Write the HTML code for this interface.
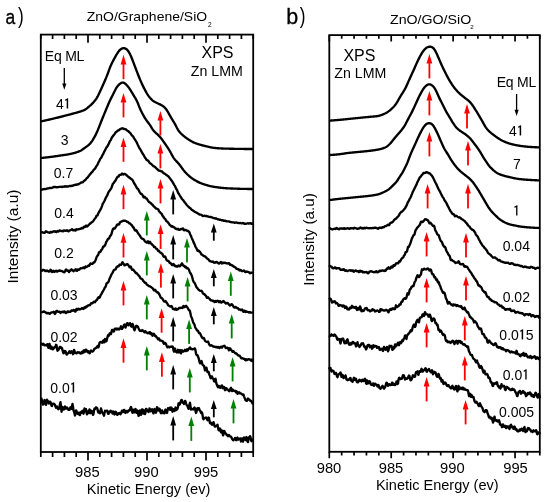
<!DOCTYPE html>
<html><head><meta charset="utf-8"><title>XPS Zn LMM spectra</title>
<style>html,body{margin:0;padding:0;background:#fff;}body{width:550px;height:502px;overflow:hidden;}svg{display:block;}</style>
</head><body>
<svg width="550" height="502" viewBox="0 0 550 502"><rect x="40.8" y="34.6" width="212.4" height="417.4" fill="none" stroke="#000" stroke-width="1.8"/>
<rect x="329.3" y="35.1" width="210.5" height="416.7" fill="none" stroke="#000" stroke-width="1.8"/>
<path d="M40.80,35 V38.9 M40.80,452 V457 M52.60,35 V38.9 M52.60,452 V457 M64.40,35 V38.9 M64.40,452 V457 M76.20,35 V38.9 M76.20,452 V457 M88.00,35 V42.7 M88.00,452 V460.5 M99.80,35 V38.9 M99.80,452 V457 M111.60,35 V38.9 M111.60,452 V457 M123.40,35 V38.9 M123.40,452 V457 M135.20,35 V38.9 M135.20,452 V457 M147.00,35 V42.7 M147.00,452 V460.5 M158.80,35 V38.9 M158.80,452 V457 M170.60,35 V38.9 M170.60,452 V457 M182.40,35 V38.9 M182.40,452 V457 M194.20,35 V38.9 M194.20,452 V457 M206.00,35 V42.7 M206.00,452 V460.5 M217.80,35 V38.9 M217.80,452 V457 M229.60,35 V38.9 M229.60,452 V457 M241.40,35 V38.9 M241.40,452 V457 M253.20,35 V38.9 M253.20,452 V457 M329.30,35 V41.4 M329.30,452 V458.2 M341.68,35 V38.8 M341.68,452 V455.5 M354.06,35 V38.8 M354.06,452 V455.5 M366.45,35 V38.8 M366.45,452 V455.5 M378.83,35 V38.8 M378.83,452 V455.5 M391.21,35 V41.4 M391.21,452 V458.2 M403.59,35 V38.8 M403.59,452 V455.5 M415.98,35 V38.8 M415.98,452 V455.5 M428.36,35 V38.8 M428.36,452 V455.5 M440.74,35 V38.8 M440.74,452 V455.5 M453.12,35 V41.4 M453.12,452 V458.2 M465.51,35 V38.8 M465.51,452 V455.5 M477.89,35 V38.8 M477.89,452 V455.5 M490.27,35 V38.8 M490.27,452 V455.5 M502.65,35 V38.8 M502.65,452 V455.5 M515.04,35 V41.4 M515.04,452 V458.2 M527.42,35 V38.8 M527.42,452 V455.5 M539.80,35 V38.8 M539.80,452 V455.5" stroke="#000" stroke-width="1.7" fill="none"/>
<path d="M41.0,121.40 L41.5,121.29 L42.0,121.18 L42.5,121.08 L43.0,120.97 L43.5,120.86 L44.0,120.75 L44.5,120.64 L45.0,120.53 L45.5,120.42 L46.0,120.31 L46.5,120.19 L47.0,120.08 L47.5,119.97 L48.0,119.86 L48.5,119.74 L49.0,119.63 L49.5,119.51 L50.0,119.40 L50.5,119.28 L51.0,119.17 L51.5,119.05 L52.0,118.93 L52.5,118.82 L53.0,118.70 L53.5,118.58 L54.0,118.46 L54.5,118.34 L55.0,118.22 L55.5,118.10 L56.0,117.98 L56.5,117.86 L57.0,117.74 L57.5,117.62 L58.0,117.49 L58.5,117.37 L59.0,117.25 L59.5,117.12 L60.0,117.00 L60.5,116.87 L61.0,116.75 L61.5,116.62 L62.0,116.50 L62.5,116.37 L63.0,116.24 L63.5,116.11 L64.0,115.98 L64.5,115.85 L65.0,115.72 L65.5,115.59 L66.0,115.46 L66.5,115.33 L67.0,115.20 L67.5,115.07 L68.0,114.93 L68.5,114.80 L69.0,114.67 L69.5,114.53 L70.0,114.40 L70.5,114.27 L71.0,114.13 L71.5,114.00 L72.0,113.87 L72.5,113.74 L73.0,113.60 L73.5,113.47 L74.0,113.34 L74.5,113.21 L75.0,113.07 L75.5,112.93 L76.0,112.79 L76.5,112.65 L77.0,112.51 L77.5,112.37 L78.0,112.22 L78.5,112.07 L79.0,111.91 L79.5,111.76 L80.0,111.60 L80.5,111.44 L81.0,111.27 L81.5,111.10 L82.0,110.93 L82.5,110.75 L83.0,110.56 L83.5,110.36 L84.0,110.14 L84.5,109.90 L85.0,109.63 L85.5,109.33 L86.0,109.00 L86.5,108.63 L87.0,108.24 L87.5,107.84 L88.0,107.42 L88.5,107.00 L89.0,106.58 L89.5,106.16 L90.0,105.73 L90.5,105.28 L91.0,104.83 L91.5,104.35 L92.0,103.86 L92.5,103.35 L93.0,102.82 L93.5,102.27 L94.0,101.69 L94.5,101.09 L95.0,100.46 L95.5,99.80 L96.0,99.10 L96.5,98.36 L97.0,97.56 L97.5,96.69 L98.0,95.77 L98.5,94.78 L99.0,93.74 L99.5,92.68 L100.0,91.59 L100.5,90.51 L101.0,89.41 L101.5,88.32 L102.0,87.21 L102.5,86.10 L103.0,84.99 L103.5,83.87 L104.0,82.73 L104.5,81.60 L105.0,80.45 L105.5,79.29 L106.0,78.11 L106.5,76.91 L107.0,75.66 L107.5,74.35 L108.0,72.99 L108.5,71.59 L109.0,70.18 L109.5,68.80 L110.0,67.49 L110.5,66.27 L111.0,65.13 L111.5,64.06 L112.0,63.03 L112.5,62.03 L113.0,61.06 L113.5,60.11 L114.0,59.17 L114.5,58.24 L115.0,57.32 L115.5,56.42 L116.0,55.53 L116.5,54.66 L117.0,53.83 L117.5,53.04 L118.0,52.29 L118.5,51.60 L119.0,50.95 L119.5,50.38 L120.0,49.88 L120.5,49.45 L121.0,49.10 L121.5,48.80 L122.0,48.56 L122.5,48.37 L123.0,48.24 L123.5,48.17 L124.0,48.18 L124.5,48.26 L125.0,48.41 L125.5,48.63 L126.0,48.91 L126.5,49.26 L127.0,49.69 L127.5,50.20 L128.0,50.80 L128.5,51.51 L129.0,52.31 L129.5,53.19 L130.0,54.15 L130.5,55.19 L131.0,56.30 L131.5,57.49 L132.0,58.73 L132.5,60.03 L133.0,61.34 L133.5,62.66 L134.0,63.98 L134.5,65.30 L135.0,66.62 L135.5,67.94 L136.0,69.26 L136.5,70.58 L137.0,71.88 L137.5,73.18 L138.0,74.46 L138.5,75.72 L139.0,76.97 L139.5,78.20 L140.0,79.41 L140.5,80.60 L141.0,81.76 L141.5,82.89 L142.0,83.99 L142.5,85.06 L143.0,86.10 L143.5,87.12 L144.0,88.11 L144.5,89.07 L145.0,90.01 L145.5,90.93 L146.0,91.83 L146.5,92.71 L147.0,93.55 L147.5,94.37 L148.0,95.14 L148.5,95.86 L149.0,96.54 L149.5,97.18 L150.0,97.78 L150.5,98.35 L151.0,98.88 L151.5,99.39 L152.0,99.87 L152.5,100.31 L153.0,100.72 L153.5,101.09 L154.0,101.43 L154.5,101.74 L155.0,102.02 L155.5,102.29 L156.0,102.53 L156.5,102.77 L157.0,103.00 L157.5,103.24 L158.0,103.47 L158.5,103.70 L159.0,103.94 L159.5,104.17 L160.0,104.41 L160.5,104.66 L161.0,104.92 L161.5,105.19 L162.0,105.49 L162.5,105.81 L163.0,106.15 L163.5,106.53 L164.0,106.93 L164.5,107.38 L165.0,107.87 L165.5,108.42 L166.0,109.04 L166.5,109.73 L167.0,110.50 L167.5,111.32 L168.0,112.18 L168.5,113.06 L169.0,113.94 L169.5,114.82 L170.0,115.70 L170.5,116.56 L171.0,117.43 L171.5,118.28 L172.0,119.13 L172.5,119.96 L173.0,120.78 L173.5,121.60 L174.0,122.42 L174.5,123.27 L175.0,124.16 L175.5,125.10 L176.0,126.08 L176.5,127.08 L177.0,128.05 L177.5,128.96 L178.0,129.80 L178.5,130.55 L179.0,131.23 L179.5,131.86 L180.0,132.44 L180.5,132.99 L181.0,133.51 L181.5,134.01 L182.0,134.48 L182.5,134.94 L183.0,135.37 L183.5,135.79 L184.0,136.20 L184.5,136.60 L185.0,136.99 L185.5,137.36 L186.0,137.73 L186.5,138.10 L187.0,138.46 L187.5,138.81 L188.0,139.15 L188.5,139.48 L189.0,139.81 L189.5,140.12 L190.0,140.43 L190.5,140.73 L191.0,141.02 L191.5,141.30 L192.0,141.58 L192.5,141.84 L193.0,142.09 L193.5,142.33 L194.0,142.55 L194.5,142.77 L195.0,142.98 L195.5,143.18 L196.0,143.37 L196.5,143.56 L197.0,143.74 L197.5,143.91 L198.0,144.07 L198.5,144.24 L199.0,144.39 L199.5,144.54 L200.0,144.69 L200.5,144.84 L201.0,144.98 L201.5,145.11 L202.0,145.25 L202.5,145.38 L203.0,145.50 L203.5,145.63 L204.0,145.75 L204.5,145.88 L205.0,146.00 L205.5,146.12 L206.0,146.24 L206.5,146.36 L207.0,146.48 L207.5,146.60 L208.0,146.72 L208.5,146.84 L209.0,146.96 L209.5,147.07 L210.0,147.18 L210.5,147.28 L211.0,147.38 L211.5,147.48 L212.0,147.57 L212.5,147.66 L213.0,147.74 L213.5,147.81 L214.0,147.88 L214.5,147.94 L215.0,147.99 L215.5,148.04 L216.0,148.09 L216.5,148.13 L217.0,148.17 L217.5,148.21 L218.0,148.25 L218.5,148.28 L219.0,148.32 L219.5,148.35 L220.0,148.38 L220.5,148.41 L221.0,148.44 L221.5,148.46 L222.0,148.49 L222.5,148.51 L223.0,148.53 L223.5,148.55 L224.0,148.57 L224.5,148.58 L225.0,148.60 L225.5,148.61 L226.0,148.62 L226.5,148.64 L227.0,148.65 L227.5,148.66 L228.0,148.67 L228.5,148.69 L229.0,148.70 L229.5,148.71 L230.0,148.72 L230.5,148.73 L231.0,148.74 L231.5,148.75 L232.0,148.76 L232.5,148.77 L233.0,148.78 L233.5,148.79 L234.0,148.80 L234.5,148.81 L235.0,148.82 L235.5,148.83 L236.0,148.84 L236.5,148.85 L237.0,148.86 L237.5,148.87 L238.0,148.87 L238.5,148.88 L239.0,148.89 L239.5,148.90 L240.0,148.90 L240.5,148.91 L241.0,148.92 L241.5,148.92 L242.0,148.93 L242.5,148.94 L243.0,148.94 L243.5,148.95 L244.0,148.95 L244.5,148.96 L245.0,148.96 L245.5,148.97 L246.0,148.97 L246.5,148.97 L247.0,148.98 L247.5,148.98 L248.0,148.98 L248.5,148.99 L249.0,148.99 L249.5,148.99 L250.0,148.99 L250.5,149.00 L251.0,149.00 L251.5,149.00 L252.0,149.00 L252.5,149.00 L253.0,149.00" fill="none" stroke="#000" stroke-width="2.35" stroke-linejoin="round"/>
<path d="M41.0,158.00 L41.5,157.95 L42.0,157.90 L42.5,157.85 L43.0,157.80 L43.5,157.74 L44.0,157.69 L44.5,157.64 L45.0,157.58 L45.5,157.53 L46.0,157.47 L46.5,157.42 L47.0,157.36 L47.5,157.30 L48.0,157.24 L48.5,157.18 L49.0,157.12 L49.5,157.06 L50.0,157.00 L50.5,156.94 L51.0,156.87 L51.5,156.81 L52.0,156.74 L52.5,156.68 L53.0,156.61 L53.5,156.54 L54.0,156.47 L54.5,156.40 L55.0,156.33 L55.5,156.26 L56.0,156.19 L56.5,156.12 L57.0,156.04 L57.5,155.97 L58.0,155.90 L58.5,155.82 L59.0,155.75 L59.5,155.67 L60.0,155.60 L60.5,155.53 L61.0,155.45 L61.5,155.38 L62.0,155.31 L62.5,155.24 L63.0,155.17 L63.5,155.09 L64.0,155.02 L64.5,154.95 L65.0,154.87 L65.5,154.79 L66.0,154.72 L66.5,154.64 L67.0,154.55 L67.5,154.47 L68.0,154.38 L68.5,154.29 L69.0,154.19 L69.5,154.09 L70.0,153.99 L70.5,153.89 L71.0,153.78 L71.5,153.67 L72.0,153.55 L72.5,153.43 L73.0,153.31 L73.5,153.18 L74.0,153.05 L74.5,152.91 L75.0,152.77 L75.5,152.62 L76.0,152.46 L76.5,152.30 L77.0,152.14 L77.5,151.96 L78.0,151.78 L78.5,151.59 L79.0,151.39 L79.5,151.18 L80.0,150.96 L80.5,150.71 L81.0,150.44 L81.5,150.15 L82.0,149.83 L82.5,149.50 L83.0,149.15 L83.5,148.79 L84.0,148.43 L84.5,148.07 L85.0,147.71 L85.5,147.36 L86.0,147.01 L86.5,146.65 L87.0,146.30 L87.5,145.93 L88.0,145.54 L88.5,145.13 L89.0,144.69 L89.5,144.21 L90.0,143.68 L90.5,143.11 L91.0,142.49 L91.5,141.81 L92.0,141.09 L92.5,140.33 L93.0,139.53 L93.5,138.71 L94.0,137.86 L94.5,136.98 L95.0,136.07 L95.5,135.12 L96.0,134.14 L96.5,133.10 L97.0,132.01 L97.5,130.87 L98.0,129.67 L98.5,128.42 L99.0,127.14 L99.5,125.84 L100.0,124.55 L100.5,123.27 L101.0,122.00 L101.5,120.75 L102.0,119.51 L102.5,118.28 L103.0,117.05 L103.5,115.83 L104.0,114.61 L104.5,113.39 L105.0,112.18 L105.5,110.97 L106.0,109.77 L106.5,108.58 L107.0,107.40 L107.5,106.21 L108.0,105.02 L108.5,103.83 L109.0,102.67 L109.5,101.54 L110.0,100.44 L110.5,99.39 L111.0,98.38 L111.5,97.39 L112.0,96.42 L112.5,95.46 L113.0,94.49 L113.5,93.50 L114.0,92.48 L114.5,91.45 L115.0,90.43 L115.5,89.45 L116.0,88.54 L116.5,87.70 L117.0,86.95 L117.5,86.27 L118.0,85.66 L118.5,85.10 L119.0,84.59 L119.5,84.14 L120.0,83.74 L120.5,83.40 L121.0,83.10 L121.5,82.86 L122.0,82.68 L122.5,82.57 L123.0,82.55 L123.5,82.64 L124.0,82.85 L124.5,83.15 L125.0,83.53 L125.5,83.96 L126.0,84.43 L126.5,84.92 L127.0,85.44 L127.5,86.00 L128.0,86.60 L128.5,87.24 L129.0,87.92 L129.5,88.64 L130.0,89.40 L130.5,90.17 L131.0,90.96 L131.5,91.76 L132.0,92.58 L132.5,93.41 L133.0,94.26 L133.5,95.12 L134.0,95.97 L134.5,96.80 L135.0,97.63 L135.5,98.47 L136.0,99.34 L136.5,100.27 L137.0,101.28 L137.5,102.38 L138.0,103.57 L138.5,104.82 L139.0,106.10 L139.5,107.35 L140.0,108.55 L140.5,109.68 L141.0,110.76 L141.5,111.78 L142.0,112.76 L142.5,113.72 L143.0,114.64 L143.5,115.55 L144.0,116.43 L144.5,117.29 L145.0,118.12 L145.5,118.92 L146.0,119.69 L146.5,120.42 L147.0,121.12 L147.5,121.79 L148.0,122.44 L148.5,123.08 L149.0,123.73 L149.5,124.41 L150.0,125.12 L150.5,125.88 L151.0,126.69 L151.5,127.52 L152.0,128.34 L152.5,129.14 L153.0,129.89 L153.5,130.57 L154.0,131.17 L154.5,131.71 L155.0,132.19 L155.5,132.64 L156.0,133.08 L156.5,133.52 L157.0,133.96 L157.5,134.41 L158.0,134.86 L158.5,135.34 L159.0,135.83 L159.5,136.36 L160.0,136.91 L160.5,137.50 L161.0,138.13 L161.5,138.78 L162.0,139.45 L162.5,140.15 L163.0,140.85 L163.5,141.57 L164.0,142.28 L164.5,142.99 L165.0,143.71 L165.5,144.42 L166.0,145.14 L166.5,145.86 L167.0,146.60 L167.5,147.34 L168.0,148.10 L168.5,148.88 L169.0,149.68 L169.5,150.52 L170.0,151.39 L170.5,152.29 L171.0,153.21 L171.5,154.14 L172.0,155.07 L172.5,155.97 L173.0,156.82 L173.5,157.62 L174.0,158.36 L174.5,159.04 L175.0,159.67 L175.5,160.25 L176.0,160.80 L176.5,161.34 L177.0,161.86 L177.5,162.39 L178.0,162.92 L178.5,163.48 L179.0,164.07 L179.5,164.69 L180.0,165.33 L180.5,166.00 L181.0,166.69 L181.5,167.39 L182.0,168.09 L182.5,168.79 L183.0,169.47 L183.5,170.13 L184.0,170.76 L184.5,171.37 L185.0,171.94 L185.5,172.49 L186.0,173.02 L186.5,173.53 L187.0,174.03 L187.5,174.52 L188.0,174.99 L188.5,175.45 L189.0,175.90 L189.5,176.33 L190.0,176.75 L190.5,177.16 L191.0,177.55 L191.5,177.93 L192.0,178.29 L192.5,178.64 L193.0,178.98 L193.5,179.30 L194.0,179.62 L194.5,179.92 L195.0,180.22 L195.5,180.51 L196.0,180.80 L196.5,181.08 L197.0,181.35 L197.5,181.61 L198.0,181.87 L198.5,182.12 L199.0,182.36 L199.5,182.59 L200.0,182.81 L200.5,183.03 L201.0,183.24 L201.5,183.44 L202.0,183.63 L202.5,183.81 L203.0,183.99 L203.5,184.16 L204.0,184.32 L204.5,184.49 L205.0,184.64 L205.5,184.80 L206.0,184.95 L206.5,185.10 L207.0,185.24 L207.5,185.38 L208.0,185.52 L208.5,185.65 L209.0,185.78 L209.5,185.91 L210.0,186.03 L210.5,186.14 L211.0,186.26 L211.5,186.36 L212.0,186.47 L212.5,186.57 L213.0,186.66 L213.5,186.75 L214.0,186.84 L214.5,186.92 L215.0,186.99 L215.5,187.07 L216.0,187.14 L216.5,187.21 L217.0,187.28 L217.5,187.34 L218.0,187.41 L218.5,187.47 L219.0,187.53 L219.5,187.60 L220.0,187.65 L220.5,187.71 L221.0,187.77 L221.5,187.82 L222.0,187.88 L222.5,187.93 L223.0,187.97 L223.5,188.02 L224.0,188.07 L224.5,188.11 L225.0,188.15 L225.5,188.19 L226.0,188.22 L226.5,188.26 L227.0,188.29 L227.5,188.32 L228.0,188.35 L228.5,188.37 L229.0,188.40 L229.5,188.42 L230.0,188.44 L230.5,188.46 L231.0,188.48 L231.5,188.50 L232.0,188.52 L232.5,188.54 L233.0,188.56 L233.5,188.58 L234.0,188.60 L234.5,188.62 L235.0,188.64 L235.5,188.65 L236.0,188.67 L236.5,188.69 L237.0,188.70 L237.5,188.72 L238.0,188.74 L238.5,188.75 L239.0,188.77 L239.5,188.78 L240.0,188.80 L240.5,188.81 L241.0,188.83 L241.5,188.84 L242.0,188.85 L242.5,188.86 L243.0,188.88 L243.5,188.89 L244.0,188.90 L244.5,188.91 L245.0,188.92 L245.5,188.93 L246.0,188.94 L246.5,188.94 L247.0,188.95 L247.5,188.96 L248.0,188.97 L248.5,188.97 L249.0,188.98 L249.5,188.98 L250.0,188.99 L250.5,188.99 L251.0,188.99 L251.5,189.00 L252.0,189.00 L252.5,189.00 L253.0,189.00" fill="none" stroke="#000" stroke-width="2.35" stroke-linejoin="round"/>
<path d="M41.0,190.02 L41.5,189.81 L42.0,189.58 L42.5,189.40 L43.0,189.32 L43.5,189.15 L44.0,189.08 L44.5,189.00 L45.0,189.05 L45.5,189.19 L46.0,188.91 L46.5,188.74 L47.0,188.64 L47.5,188.43 L48.0,188.44 L48.5,188.41 L49.0,188.24 L49.5,187.94 L50.0,187.87 L50.5,188.09 L51.0,188.06 L51.5,187.93 L52.0,187.91 L52.5,187.74 L53.0,187.33 L53.5,187.02 L54.0,186.96 L54.5,186.91 L55.0,186.91 L55.5,187.09 L56.0,187.23 L56.5,187.29 L57.0,187.28 L57.5,187.17 L58.0,187.12 L58.5,187.05 L59.0,186.89 L59.5,186.86 L60.0,186.90 L60.5,186.80 L61.0,186.75 L61.5,186.90 L62.0,187.04 L62.5,186.90 L63.0,186.65 L63.5,186.56 L64.0,186.75 L64.5,186.69 L65.0,186.27 L65.5,186.36 L66.0,186.61 L66.5,186.47 L67.0,186.41 L67.5,186.63 L68.0,186.57 L68.5,186.27 L69.0,186.09 L69.5,185.96 L70.0,185.93 L70.5,185.97 L71.0,186.00 L71.5,185.88 L72.0,185.73 L72.5,185.72 L73.0,185.63 L73.5,185.33 L74.0,185.12 L74.5,185.09 L75.0,184.84 L75.5,184.64 L76.0,184.71 L76.5,184.81 L77.0,184.61 L77.5,184.29 L78.0,184.40 L78.5,184.35 L79.0,183.88 L79.5,183.55 L80.0,183.32 L80.5,183.02 L81.0,182.65 L81.5,182.41 L82.0,182.39 L82.5,182.41 L83.0,182.16 L83.5,181.41 L84.0,180.83 L84.5,180.64 L85.0,180.34 L85.5,179.87 L86.0,179.20 L86.5,178.46 L87.0,178.00 L87.5,177.63 L88.0,176.96 L88.5,176.27 L89.0,175.69 L89.5,174.95 L90.0,174.39 L90.5,173.87 L91.0,173.11 L91.5,172.53 L92.0,172.14 L92.5,171.60 L93.0,170.92 L93.5,170.18 L94.0,169.44 L94.5,169.07 L95.0,168.70 L95.5,167.85 L96.0,166.96 L96.5,166.15 L97.0,165.44 L97.5,164.64 L98.0,163.52 L98.5,162.30 L99.0,161.34 L99.5,160.52 L100.0,159.39 L100.5,158.49 L101.0,158.01 L101.5,157.22 L102.0,156.11 L102.5,155.09 L103.0,154.24 L103.5,153.42 L104.0,152.35 L104.5,151.18 L105.0,150.27 L105.5,149.34 L106.0,148.22 L106.5,147.35 L107.0,146.83 L107.5,146.17 L108.0,145.15 L108.5,144.22 L109.0,143.31 L109.5,142.04 L110.0,141.00 L110.5,140.34 L111.0,139.53 L111.5,138.31 L112.0,137.19 L112.5,136.67 L113.0,136.12 L113.5,135.36 L114.0,134.80 L114.5,134.25 L115.0,133.44 L115.5,132.57 L116.0,132.00 L116.5,131.71 L117.0,131.31 L117.5,130.81 L118.0,130.45 L118.5,130.29 L119.0,130.10 L119.5,129.65 L120.0,129.26 L120.5,129.18 L121.0,128.83 L121.5,128.45 L122.0,128.41 L122.5,128.27 L123.0,128.40 L123.5,128.87 L124.0,129.00 L124.5,128.91 L125.0,129.07 L125.5,129.29 L126.0,129.47 L126.5,129.86 L127.0,130.31 L127.5,130.70 L128.0,130.98 L128.5,131.32 L129.0,131.92 L129.5,132.41 L130.0,132.79 L130.5,133.34 L131.0,134.03 L131.5,134.83 L132.0,135.52 L132.5,135.93 L133.0,136.36 L133.5,137.13 L134.0,138.11 L134.5,138.89 L135.0,139.54 L135.5,140.41 L136.0,141.20 L136.5,141.90 L137.0,142.96 L137.5,144.17 L138.0,145.26 L138.5,146.26 L139.0,147.26 L139.5,148.18 L140.0,148.85 L140.5,149.63 L141.0,150.65 L141.5,151.59 L142.0,152.45 L142.5,153.34 L143.0,154.22 L143.5,154.84 L144.0,155.60 L144.5,156.76 L145.0,157.61 L145.5,158.17 L146.0,159.00 L146.5,159.76 L147.0,160.17 L147.5,160.38 L148.0,160.61 L148.5,161.15 L149.0,161.95 L149.5,162.66 L150.0,163.10 L150.5,163.49 L151.0,163.88 L151.5,164.26 L152.0,164.76 L152.5,165.30 L153.0,165.87 L153.5,166.20 L154.0,166.38 L154.5,166.66 L155.0,167.04 L155.5,167.53 L156.0,167.94 L156.5,168.46 L157.0,169.03 L157.5,169.37 L158.0,169.85 L158.5,170.39 L159.0,170.61 L159.5,170.72 L160.0,170.77 L160.5,170.92 L161.0,171.26 L161.5,171.30 L162.0,171.48 L162.5,172.19 L163.0,172.64 L163.5,172.90 L164.0,173.39 L164.5,173.67 L165.0,173.80 L165.5,174.22 L166.0,174.76 L166.5,175.05 L167.0,175.33 L167.5,175.73 L168.0,176.08 L168.5,176.48 L169.0,177.08 L169.5,177.82 L170.0,178.50 L170.5,179.10 L171.0,179.82 L171.5,180.45 L172.0,181.08 L172.5,181.92 L173.0,182.80 L173.5,183.69 L174.0,184.60 L174.5,185.35 L175.0,186.05 L175.5,187.20 L176.0,188.49 L176.5,189.22 L177.0,189.92 L177.5,191.25 L178.0,192.61 L178.5,193.49 L179.0,194.18 L179.5,195.01 L180.0,195.86 L180.5,196.53 L181.0,197.36 L181.5,198.25 L182.0,198.94 L182.5,199.51 L183.0,199.97 L183.5,200.54 L184.0,201.33 L184.5,202.12 L185.0,202.71 L185.5,203.22 L186.0,203.86 L186.5,204.65 L187.0,205.30 L187.5,205.75 L188.0,206.29 L188.5,206.74 L189.0,207.16 L189.5,207.81 L190.0,208.17 L190.5,208.30 L191.0,208.99 L191.5,209.64 L192.0,209.85 L192.5,210.21 L193.0,210.61 L193.5,210.86 L194.0,211.19 L194.5,211.64 L195.0,211.95 L195.5,212.15 L196.0,212.36 L196.5,212.53 L197.0,212.86 L197.5,213.27 L198.0,213.51 L198.5,213.84 L199.0,214.29 L199.5,214.57 L200.0,214.62 L200.5,214.59 L201.0,214.72 L201.5,214.95 L202.0,215.31 L202.5,215.84 L203.0,216.06 L203.5,215.88 L204.0,215.78 L204.5,215.77 L205.0,215.88 L205.5,216.06 L206.0,216.00 L206.5,216.02 L207.0,216.25 L207.5,216.38 L208.0,216.48 L208.5,216.66 L209.0,216.82 L209.5,216.94 L210.0,216.98 L210.5,216.95 L211.0,217.03 L211.5,217.22 L212.0,217.39 L212.5,217.55 L213.0,217.83 L213.5,218.07 L214.0,218.05 L214.5,218.10 L215.0,218.35 L215.5,218.51 L216.0,218.40 L216.5,218.51 L217.0,218.98 L217.5,219.22 L218.0,219.18 L218.5,219.30 L219.0,219.63 L219.5,219.72 L220.0,219.64 L220.5,219.69 L221.0,219.97 L221.5,220.28 L222.0,220.25 L222.5,220.14 L223.0,220.40 L223.5,220.79 L224.0,220.86 L224.5,220.69 L225.0,220.68 L225.5,220.92 L226.0,221.16 L226.5,221.21 L227.0,221.29 L227.5,221.43 L228.0,221.44 L228.5,221.38 L229.0,221.43 L229.5,221.58 L230.0,221.82 L230.5,222.06 L231.0,222.11 L231.5,222.17 L232.0,222.29 L232.5,222.31 L233.0,222.36 L233.5,222.31 L234.0,222.41 L234.5,222.72 L235.0,222.72 L235.5,222.57 L236.0,222.54 L236.5,222.54 L237.0,222.68 L237.5,222.82 L238.0,222.92 L238.5,223.13 L239.0,223.19 L239.5,223.09 L240.0,222.98 L240.5,223.02 L241.0,223.20 L241.5,223.35 L242.0,223.32 L242.5,223.13 L243.0,222.98 L243.5,223.19 L244.0,223.64 L244.5,223.80 L245.0,223.67 L245.5,223.64 L246.0,223.76 L246.5,223.70 L247.0,223.50 L247.5,223.30 L248.0,223.29 L248.5,223.52 L249.0,223.60 L249.5,223.45 L250.0,223.19 L250.5,223.06 L251.0,223.32 L251.5,223.79 L252.0,223.91 L252.5,223.62 L253.0,223.50" fill="none" stroke="#000" stroke-width="2.35" stroke-linejoin="round"/>
<path d="M41.0,231.88 L41.5,232.14 L42.0,232.20 L42.5,232.40 L43.0,232.67 L43.5,232.69 L44.0,232.75 L44.5,232.83 L45.0,232.51 L45.5,231.74 L46.0,231.29 L46.5,231.50 L47.0,231.93 L47.5,232.18 L48.0,232.35 L48.5,232.31 L49.0,232.50 L49.5,232.92 L50.0,232.60 L50.5,231.90 L51.0,231.82 L51.5,232.37 L52.0,232.27 L52.5,231.62 L53.0,231.62 L53.5,231.54 L54.0,231.11 L54.5,231.52 L55.0,231.76 L55.5,231.29 L56.0,231.70 L56.5,232.07 L57.0,231.38 L57.5,231.04 L58.0,231.31 L58.5,231.46 L59.0,231.07 L59.5,230.43 L60.0,230.47 L60.5,230.80 L61.0,231.03 L61.5,231.18 L62.0,230.87 L62.5,230.96 L63.0,231.37 L63.5,230.87 L64.0,230.34 L64.5,230.45 L65.0,230.69 L65.5,230.91 L66.0,230.81 L66.5,230.44 L67.0,230.21 L67.5,230.46 L68.0,231.21 L68.5,231.38 L69.0,230.82 L69.5,230.60 L70.0,230.44 L70.5,230.05 L71.0,229.86 L71.5,229.57 L72.0,229.23 L72.5,229.57 L73.0,230.28 L73.5,230.42 L74.0,230.02 L74.5,229.89 L75.0,230.44 L75.5,230.54 L76.0,229.68 L76.5,229.18 L77.0,229.44 L77.5,229.51 L78.0,229.32 L78.5,229.23 L79.0,229.15 L79.5,229.12 L80.0,228.88 L80.5,228.76 L81.0,228.66 L81.5,228.06 L82.0,227.92 L82.5,228.33 L83.0,228.28 L83.5,227.39 L84.0,226.68 L84.5,226.96 L85.0,226.96 L85.5,226.08 L86.0,225.61 L86.5,226.24 L87.0,226.61 L87.5,226.23 L88.0,225.71 L88.5,225.04 L89.0,224.58 L89.5,224.07 L90.0,223.59 L90.5,223.35 L91.0,222.94 L91.5,222.47 L92.0,222.08 L92.5,221.71 L93.0,221.34 L93.5,220.67 L94.0,219.90 L94.5,219.18 L95.0,218.34 L95.5,217.92 L96.0,217.08 L96.5,215.78 L97.0,215.49 L97.5,215.40 L98.0,214.36 L98.5,212.96 L99.0,211.97 L99.5,211.25 L100.0,210.45 L100.5,209.49 L101.0,208.43 L101.5,207.41 L102.0,206.09 L102.5,204.49 L103.0,203.26 L103.5,202.57 L104.0,201.78 L104.5,200.82 L105.0,199.79 L105.5,198.45 L106.0,197.34 L106.5,196.52 L107.0,195.79 L107.5,194.87 L108.0,193.53 L108.5,192.17 L109.0,191.21 L109.5,190.77 L110.0,190.25 L110.5,189.29 L111.0,188.60 L111.5,187.71 L112.0,186.25 L112.5,184.76 L113.0,183.57 L113.5,183.18 L114.0,182.70 L114.5,181.66 L115.0,181.07 L115.5,180.57 L116.0,179.55 L116.5,178.52 L117.0,177.71 L117.5,176.86 L118.0,176.68 L118.5,176.69 L119.0,175.67 L119.5,174.86 L120.0,174.87 L120.5,174.93 L121.0,174.67 L121.5,174.02 L122.0,173.54 L122.5,173.76 L123.0,174.41 L123.5,174.49 L124.0,173.95 L124.5,173.89 L125.0,174.10 L125.5,174.16 L126.0,174.72 L126.5,175.28 L127.0,175.42 L127.5,176.15 L128.0,176.71 L128.5,176.81 L129.0,177.35 L129.5,177.61 L130.0,177.85 L130.5,178.53 L131.0,178.90 L131.5,179.10 L132.0,179.46 L132.5,180.01 L133.0,180.83 L133.5,181.94 L134.0,182.99 L134.5,183.74 L135.0,184.48 L135.5,185.34 L136.0,186.27 L136.5,187.31 L137.0,188.32 L137.5,188.64 L138.0,188.81 L138.5,189.71 L139.0,190.86 L139.5,191.84 L140.0,192.58 L140.5,193.33 L141.0,193.80 L141.5,193.92 L142.0,194.42 L142.5,194.97 L143.0,195.98 L143.5,197.42 L144.0,197.39 L144.5,196.70 L145.0,197.11 L145.5,198.06 L146.0,198.44 L146.5,198.39 L147.0,198.92 L147.5,199.93 L148.0,200.72 L148.5,201.34 L149.0,202.03 L149.5,202.33 L150.0,202.42 L150.5,203.00 L151.0,203.39 L151.5,203.92 L152.0,204.53 L152.5,204.62 L153.0,205.18 L153.5,206.15 L154.0,206.63 L154.5,206.71 L155.0,207.35 L155.5,208.07 L156.0,208.37 L156.5,208.71 L157.0,208.82 L157.5,208.90 L158.0,209.19 L158.5,209.84 L159.0,211.14 L159.5,211.79 L160.0,212.01 L160.5,212.95 L161.0,213.38 L161.5,213.52 L162.0,214.55 L162.5,215.79 L163.0,216.33 L163.5,216.88 L164.0,217.86 L164.5,218.47 L165.0,218.72 L165.5,219.35 L166.0,220.53 L166.5,221.22 L167.0,221.29 L167.5,221.76 L168.0,222.50 L168.5,222.94 L169.0,223.61 L169.5,224.66 L170.0,225.16 L170.5,225.29 L171.0,225.82 L171.5,226.60 L172.0,226.42 L172.5,226.19 L173.0,226.97 L173.5,227.26 L174.0,227.20 L174.5,227.54 L175.0,228.00 L175.5,228.68 L176.0,228.82 L176.5,228.64 L177.0,229.25 L177.5,229.22 L178.0,228.74 L178.5,229.38 L179.0,229.86 L179.5,229.88 L180.0,229.84 L180.5,229.24 L181.0,228.88 L181.5,229.08 L182.0,229.24 L182.5,228.89 L183.0,228.38 L183.5,229.18 L184.0,230.29 L184.5,230.24 L185.0,230.06 L185.5,229.95 L186.0,229.97 L186.5,230.48 L187.0,230.73 L187.5,230.66 L188.0,231.04 L188.5,231.56 L189.0,231.70 L189.5,232.42 L190.0,233.91 L190.5,234.95 L191.0,235.85 L191.5,237.35 L192.0,238.67 L192.5,239.59 L193.0,240.77 L193.5,242.12 L194.0,243.17 L194.5,244.12 L195.0,245.39 L195.5,246.74 L196.0,247.56 L196.5,248.26 L197.0,249.57 L197.5,250.77 L198.0,250.74 L198.5,250.39 L199.0,251.05 L199.5,251.76 L200.0,251.95 L200.5,252.63 L201.0,253.82 L201.5,254.45 L202.0,254.68 L202.5,255.04 L203.0,255.50 L203.5,255.85 L204.0,256.06 L204.5,256.18 L205.0,256.33 L205.5,256.85 L206.0,257.43 L206.5,257.89 L207.0,258.36 L207.5,258.83 L208.0,259.18 L208.5,259.34 L209.0,260.07 L209.5,260.96 L210.0,261.02 L210.5,261.06 L211.0,261.52 L211.5,261.71 L212.0,261.76 L212.5,261.58 L213.0,261.51 L213.5,262.19 L214.0,262.76 L214.5,262.65 L215.0,262.48 L215.5,262.61 L216.0,262.35 L216.5,261.95 L217.0,262.16 L217.5,262.55 L218.0,262.92 L218.5,263.40 L219.0,263.56 L219.5,263.33 L220.0,262.76 L220.5,262.10 L221.0,262.01 L221.5,262.70 L222.0,263.51 L222.5,263.26 L223.0,262.57 L223.5,262.85 L224.0,263.08 L224.5,262.76 L225.0,262.73 L225.5,262.87 L226.0,263.16 L226.5,263.35 L227.0,263.34 L227.5,263.37 L228.0,263.52 L228.5,263.28 L229.0,263.09 L229.5,264.14 L230.0,264.80 L230.5,264.47 L231.0,264.83 L231.5,265.33 L232.0,265.27 L232.5,265.45 L233.0,266.13 L233.5,266.47 L234.0,266.46 L234.5,267.04 L235.0,267.42 L235.5,267.37 L236.0,268.10 L236.5,268.86 L237.0,268.80 L237.5,269.00 L238.0,269.42 L238.5,269.26 L239.0,269.53 L239.5,270.44 L240.0,270.54 L240.5,269.93 L241.0,270.05 L241.5,270.77 L242.0,271.20 L242.5,271.02 L243.0,270.89 L243.5,270.79 L244.0,270.50 L244.5,271.05 L245.0,271.89 L245.5,272.12 L246.0,271.71 L246.5,271.43 L247.0,271.78 L247.5,271.79 L248.0,271.93 L248.5,272.04 L249.0,272.05 L249.5,272.85 L250.0,273.20 L250.5,272.82 L251.0,272.66 L251.5,272.82 L252.0,272.92 L252.5,272.48 L253.0,272.09" fill="none" stroke="#000" stroke-width="2.35" stroke-linejoin="round"/>
<path d="M41.0,271.34 L41.5,271.06 L42.0,270.73 L42.5,270.21 L43.0,269.77 L43.5,269.96 L44.0,270.12 L44.5,270.38 L45.0,270.82 L45.5,271.14 L46.0,271.00 L46.5,270.56 L47.0,270.52 L47.5,270.90 L48.0,271.13 L48.5,271.37 L49.0,271.66 L49.5,271.48 L50.0,270.63 L50.5,269.81 L51.0,270.25 L51.5,271.42 L52.0,272.07 L52.5,271.83 L53.0,270.96 L53.5,270.80 L54.0,271.60 L54.5,271.85 L55.0,271.46 L55.5,270.96 L56.0,270.62 L56.5,271.21 L57.0,271.69 L57.5,271.12 L58.0,270.90 L58.5,271.12 L59.0,270.78 L59.5,270.35 L60.0,270.60 L60.5,270.93 L61.0,271.01 L61.5,271.11 L62.0,271.03 L62.5,271.27 L63.0,271.80 L63.5,271.88 L64.0,272.22 L64.5,272.29 L65.0,271.33 L65.5,270.14 L66.0,269.48 L66.5,269.80 L67.0,270.60 L67.5,270.83 L68.0,270.52 L68.5,271.13 L69.0,272.09 L69.5,271.32 L70.0,270.43 L70.5,270.52 L71.0,269.82 L71.5,269.32 L72.0,269.92 L72.5,270.22 L73.0,270.74 L73.5,271.29 L74.0,270.61 L74.5,270.29 L75.0,270.28 L75.5,269.26 L76.0,269.35 L76.5,270.73 L77.0,270.89 L77.5,269.88 L78.0,269.40 L78.5,269.68 L79.0,269.78 L79.5,269.45 L80.0,268.80 L80.5,268.27 L81.0,268.28 L81.5,268.40 L82.0,268.24 L82.5,268.06 L83.0,267.66 L83.5,267.43 L84.0,268.19 L84.5,268.35 L85.0,267.12 L85.5,266.46 L86.0,266.89 L86.5,266.98 L87.0,266.73 L87.5,266.51 L88.0,265.69 L88.5,265.45 L89.0,265.84 L89.5,265.29 L90.0,264.17 L90.5,263.50 L91.0,263.65 L91.5,263.85 L92.0,263.93 L92.5,263.95 L93.0,263.19 L93.5,262.53 L94.0,262.58 L94.5,262.21 L95.0,261.28 L95.5,260.27 L96.0,258.98 L96.5,257.38 L97.0,256.25 L97.5,255.70 L98.0,255.20 L98.5,253.92 L99.0,252.26 L99.5,251.82 L100.0,251.98 L100.5,251.66 L101.0,250.61 L101.5,249.67 L102.0,249.37 L102.5,248.45 L103.0,246.88 L103.5,246.35 L104.0,246.55 L104.5,245.94 L105.0,245.22 L105.5,244.23 L106.0,242.59 L106.5,241.53 L107.0,240.84 L107.5,239.86 L108.0,238.86 L108.5,238.71 L109.0,238.68 L109.5,237.34 L110.0,236.17 L110.5,235.67 L111.0,235.07 L111.5,234.02 L112.0,232.08 L112.5,230.24 L113.0,229.20 L113.5,228.49 L114.0,228.34 L114.5,228.67 L115.0,228.24 L115.5,227.38 L116.0,226.64 L116.5,225.83 L117.0,224.84 L117.5,224.40 L118.0,224.61 L118.5,224.51 L119.0,224.44 L119.5,223.59 L120.0,222.27 L120.5,221.93 L121.0,221.82 L121.5,221.46 L122.0,221.27 L122.5,221.13 L123.0,220.75 L123.5,220.57 L124.0,220.79 L124.5,220.76 L125.0,220.71 L125.5,220.89 L126.0,221.04 L126.5,221.32 L127.0,221.81 L127.5,221.82 L128.0,221.83 L128.5,222.61 L129.0,223.17 L129.5,223.41 L130.0,223.49 L130.5,223.89 L131.0,224.61 L131.5,224.89 L132.0,225.32 L132.5,226.49 L133.0,227.27 L133.5,227.23 L134.0,228.30 L134.5,229.69 L135.0,230.35 L135.5,230.59 L136.0,230.09 L136.5,230.44 L137.0,231.58 L137.5,232.25 L138.0,233.12 L138.5,233.94 L139.0,234.33 L139.5,235.14 L140.0,235.90 L140.5,236.77 L141.0,237.71 L141.5,238.19 L142.0,238.63 L142.5,238.70 L143.0,239.03 L143.5,239.41 L144.0,239.63 L144.5,240.62 L145.0,241.49 L145.5,241.56 L146.0,241.79 L146.5,242.45 L147.0,242.71 L147.5,241.92 L148.0,241.22 L148.5,242.28 L149.0,243.25 L149.5,242.39 L150.0,241.83 L150.5,242.88 L151.0,243.68 L151.5,243.74 L152.0,244.49 L152.5,245.18 L153.0,245.20 L153.5,245.91 L154.0,246.96 L154.5,246.88 L155.0,246.82 L155.5,247.79 L156.0,248.55 L156.5,248.73 L157.0,248.81 L157.5,249.75 L158.0,250.85 L158.5,250.65 L159.0,250.86 L159.5,251.94 L160.0,252.46 L160.5,252.57 L161.0,252.86 L161.5,253.37 L162.0,253.65 L162.5,254.13 L163.0,255.46 L163.5,256.47 L164.0,256.83 L164.5,256.65 L165.0,256.39 L165.5,257.19 L166.0,258.74 L166.5,259.91 L167.0,260.40 L167.5,260.86 L168.0,260.97 L168.5,260.91 L169.0,261.58 L169.5,262.62 L170.0,263.01 L170.5,262.99 L171.0,263.48 L171.5,264.23 L172.0,264.99 L172.5,265.07 L173.0,264.34 L173.5,263.94 L174.0,264.63 L174.5,265.93 L175.0,265.78 L175.5,265.63 L176.0,266.56 L176.5,266.51 L177.0,266.23 L177.5,266.54 L178.0,266.17 L178.5,265.37 L179.0,265.71 L179.5,266.38 L180.0,266.17 L180.5,265.62 L181.0,264.97 L181.5,264.00 L182.0,263.34 L182.5,264.12 L183.0,265.46 L183.5,265.76 L184.0,265.58 L184.5,266.26 L185.0,266.96 L185.5,266.58 L186.0,266.99 L186.5,268.17 L187.0,267.88 L187.5,267.82 L188.0,268.68 L188.5,269.06 L189.0,269.82 L189.5,271.35 L190.0,272.50 L190.5,273.26 L191.0,274.16 L191.5,275.04 L192.0,276.49 L192.5,278.26 L193.0,280.10 L193.5,281.70 L194.0,282.25 L194.5,282.80 L195.0,283.76 L195.5,284.88 L196.0,286.08 L196.5,287.16 L197.0,287.87 L197.5,288.25 L198.0,288.95 L198.5,289.58 L199.0,289.92 L199.5,290.39 L200.0,290.73 L200.5,290.93 L201.0,290.93 L201.5,290.80 L202.0,291.31 L202.5,292.44 L203.0,293.41 L203.5,293.86 L204.0,293.88 L204.5,294.21 L205.0,295.04 L205.5,295.44 L206.0,295.83 L206.5,297.00 L207.0,297.79 L207.5,297.46 L208.0,297.27 L208.5,298.03 L209.0,298.48 L209.5,298.64 L210.0,299.40 L210.5,300.15 L211.0,300.39 L211.5,300.28 L212.0,300.41 L212.5,300.98 L213.0,301.15 L213.5,300.82 L214.0,301.35 L214.5,302.03 L215.0,301.38 L215.5,301.09 L216.0,301.92 L216.5,301.72 L217.0,300.88 L217.5,300.79 L218.0,300.84 L218.5,301.40 L219.0,302.21 L219.5,301.97 L220.0,301.13 L220.5,301.45 L221.0,302.50 L221.5,302.49 L222.0,302.09 L222.5,301.93 L223.0,301.39 L223.5,300.94 L224.0,301.46 L224.5,302.21 L225.0,302.53 L225.5,303.16 L226.0,303.64 L226.5,303.31 L227.0,302.87 L227.5,302.85 L228.0,303.21 L228.5,304.04 L229.0,304.73 L229.5,305.16 L230.0,305.61 L230.5,305.29 L231.0,304.50 L231.5,304.21 L232.0,304.38 L232.5,304.94 L233.0,305.82 L233.5,306.71 L234.0,307.49 L234.5,307.68 L235.0,307.32 L235.5,306.90 L236.0,307.17 L236.5,307.97 L237.0,308.11 L237.5,307.92 L238.0,308.27 L238.5,309.05 L239.0,309.62 L239.5,309.65 L240.0,309.48 L240.5,309.75 L241.0,310.24 L241.5,310.01 L242.0,309.47 L242.5,309.87 L243.0,311.04 L243.5,311.80 L244.0,311.47 L244.5,310.61 L245.0,310.95 L245.5,312.07 L246.0,311.92 L246.5,311.38 L247.0,311.66 L247.5,311.94 L248.0,311.89 L248.5,312.28 L249.0,312.62 L249.5,312.15 L250.0,312.03 L250.5,312.48 L251.0,312.59 L251.5,312.63 L252.0,312.63 L252.5,312.56 L253.0,312.84" fill="none" stroke="#000" stroke-width="2.35" stroke-linejoin="round"/>
<path d="M41.0,311.93 L41.5,312.15 L42.0,312.08 L42.5,312.06 L43.0,311.94 L43.5,311.39 L44.0,311.31 L44.5,311.73 L45.0,312.14 L45.5,312.37 L46.0,312.65 L46.5,313.12 L47.0,313.39 L47.5,313.13 L48.0,312.90 L48.5,313.07 L49.0,313.43 L49.5,313.88 L50.0,313.70 L50.5,313.13 L51.0,312.68 L51.5,312.47 L52.0,312.45 L52.5,312.43 L53.0,312.26 L53.5,311.67 L54.0,312.04 L54.5,313.42 L55.0,313.97 L55.5,313.07 L56.0,311.53 L56.5,310.88 L57.0,310.85 L57.5,311.15 L58.0,311.79 L58.5,311.97 L59.0,311.86 L59.5,311.62 L60.0,312.00 L60.5,312.92 L61.0,312.48 L61.5,311.86 L62.0,312.06 L62.5,311.75 L63.0,311.87 L63.5,312.23 L64.0,311.68 L64.5,311.36 L65.0,311.93 L65.5,312.94 L66.0,313.10 L66.5,312.69 L67.0,312.26 L67.5,311.34 L68.0,311.44 L68.5,312.04 L69.0,311.75 L69.5,311.60 L70.0,311.74 L70.5,311.77 L71.0,311.19 L71.5,310.43 L72.0,310.38 L72.5,310.70 L73.0,310.59 L73.5,309.89 L74.0,310.14 L74.5,311.01 L75.0,311.47 L75.5,311.55 L76.0,310.07 L76.5,308.93 L77.0,309.74 L77.5,309.97 L78.0,309.13 L78.5,308.66 L79.0,309.02 L79.5,309.47 L80.0,309.33 L80.5,309.12 L81.0,309.06 L81.5,308.53 L82.0,308.01 L82.5,308.25 L83.0,308.86 L83.5,308.98 L84.0,307.98 L84.5,307.35 L85.0,307.86 L85.5,307.69 L86.0,306.60 L86.5,306.43 L87.0,306.60 L87.5,305.73 L88.0,305.44 L88.5,305.56 L89.0,305.07 L89.5,305.03 L90.0,305.03 L90.5,304.19 L91.0,303.32 L91.5,303.14 L92.0,303.41 L92.5,303.14 L93.0,302.53 L93.5,302.19 L94.0,301.73 L94.5,301.98 L95.0,302.24 L95.5,301.22 L96.0,300.31 L96.5,300.31 L97.0,299.92 L97.5,298.88 L98.0,297.89 L98.5,297.22 L99.0,297.40 L99.5,297.69 L100.0,296.81 L100.5,295.49 L101.0,294.56 L101.5,293.85 L102.0,292.86 L102.5,291.86 L103.0,291.13 L103.5,290.27 L104.0,289.41 L104.5,288.32 L105.0,287.30 L105.5,286.83 L106.0,285.42 L106.5,283.54 L107.0,283.11 L107.5,282.87 L108.0,282.31 L108.5,281.78 L109.0,280.46 L109.5,278.82 L110.0,277.82 L110.5,276.82 L111.0,275.35 L111.5,274.37 L112.0,273.64 L112.5,272.80 L113.0,271.87 L113.5,270.72 L114.0,270.08 L114.5,269.75 L115.0,269.50 L115.5,269.45 L116.0,268.44 L116.5,267.21 L117.0,266.83 L117.5,266.39 L118.0,266.24 L118.5,266.41 L119.0,265.66 L119.5,264.74 L120.0,264.60 L120.5,264.74 L121.0,264.90 L121.5,264.31 L122.0,262.82 L122.5,262.19 L123.0,263.05 L123.5,263.67 L124.0,264.38 L124.5,265.34 L125.0,265.27 L125.5,264.72 L126.0,264.46 L126.5,264.60 L127.0,264.30 L127.5,264.05 L128.0,264.81 L128.5,265.42 L129.0,266.09 L129.5,267.24 L130.0,267.30 L130.5,266.45 L131.0,266.86 L131.5,268.64 L132.0,269.82 L132.5,269.80 L133.0,269.44 L133.5,269.86 L134.0,270.79 L134.5,271.22 L135.0,271.80 L135.5,272.80 L136.0,273.21 L136.5,273.04 L137.0,273.49 L137.5,274.16 L138.0,274.77 L138.5,275.41 L139.0,275.78 L139.5,276.43 L140.0,277.40 L140.5,278.35 L141.0,278.64 L141.5,278.66 L142.0,278.96 L142.5,279.58 L143.0,280.60 L143.5,281.13 L144.0,281.52 L144.5,282.31 L145.0,282.73 L145.5,282.56 L146.0,282.95 L146.5,284.12 L147.0,284.66 L147.5,284.92 L148.0,285.31 L148.5,285.76 L149.0,286.32 L149.5,286.27 L150.0,286.29 L150.5,286.72 L151.0,287.00 L151.5,287.43 L152.0,287.80 L152.5,288.14 L153.0,288.79 L153.5,289.73 L154.0,290.42 L154.5,290.10 L155.0,289.73 L155.5,290.32 L156.0,291.35 L156.5,291.79 L157.0,292.10 L157.5,292.58 L158.0,292.53 L158.5,292.93 L159.0,294.00 L159.5,294.70 L160.0,295.56 L160.5,297.02 L161.0,297.85 L161.5,297.95 L162.0,298.31 L162.5,298.88 L163.0,299.67 L163.5,300.65 L164.0,301.36 L164.5,301.57 L165.0,301.34 L165.5,301.07 L166.0,301.66 L166.5,302.63 L167.0,302.97 L167.5,303.84 L168.0,305.11 L168.5,305.48 L169.0,305.56 L169.5,306.01 L170.0,306.62 L170.5,306.68 L171.0,306.17 L171.5,306.05 L172.0,306.64 L172.5,307.95 L173.0,309.08 L173.5,308.95 L174.0,308.94 L174.5,309.60 L175.0,309.56 L175.5,308.51 L176.0,308.63 L176.5,309.86 L177.0,309.49 L177.5,309.06 L178.0,309.24 L178.5,308.62 L179.0,307.96 L179.5,307.94 L180.0,308.16 L180.5,307.83 L181.0,307.69 L181.5,307.71 L182.0,307.77 L182.5,307.94 L183.0,306.82 L183.5,305.94 L184.0,306.64 L184.5,307.19 L185.0,306.77 L185.5,306.00 L186.0,305.81 L186.5,306.40 L187.0,306.96 L187.5,307.49 L188.0,308.53 L188.5,309.55 L189.0,310.13 L189.5,310.36 L190.0,311.27 L190.5,313.66 L191.0,316.09 L191.5,317.27 L192.0,318.31 L192.5,320.16 L193.0,321.94 L193.5,323.08 L194.0,323.74 L194.5,324.77 L195.0,326.55 L195.5,327.95 L196.0,328.48 L196.5,329.41 L197.0,330.43 L197.5,330.58 L198.0,330.84 L198.5,331.92 L199.0,333.08 L199.5,333.19 L200.0,333.21 L200.5,334.23 L201.0,335.47 L201.5,336.38 L202.0,337.33 L202.5,338.12 L203.0,338.23 L203.5,337.86 L204.0,338.08 L204.5,339.47 L205.0,340.74 L205.5,341.29 L206.0,341.49 L206.5,341.72 L207.0,341.94 L207.5,341.63 L208.0,341.55 L208.5,342.50 L209.0,344.05 L209.5,344.98 L210.0,345.55 L210.5,345.69 L211.0,345.21 L211.5,345.38 L212.0,345.63 L212.5,345.95 L213.0,346.54 L213.5,346.35 L214.0,346.32 L214.5,346.84 L215.0,346.84 L215.5,346.98 L216.0,347.28 L216.5,346.95 L217.0,346.83 L217.5,347.48 L218.0,347.47 L218.5,347.00 L219.0,347.64 L219.5,347.98 L220.0,347.59 L220.5,347.09 L221.0,346.64 L221.5,347.15 L222.0,347.64 L222.5,346.94 L223.0,346.19 L223.5,346.12 L224.0,345.93 L224.5,345.79 L225.0,346.40 L225.5,347.61 L226.0,348.12 L226.5,347.92 L227.0,347.91 L227.5,347.68 L228.0,348.02 L228.5,349.38 L229.0,350.33 L229.5,349.52 L230.0,348.31 L230.5,348.89 L231.0,350.05 L231.5,350.28 L232.0,350.98 L232.5,351.75 L233.0,351.27 L233.5,351.28 L234.0,351.88 L234.5,352.48 L235.0,353.06 L235.5,353.43 L236.0,353.64 L236.5,353.49 L237.0,354.05 L237.5,354.80 L238.0,355.05 L238.5,355.54 L239.0,355.62 L239.5,355.66 L240.0,356.21 L240.5,357.01 L241.0,357.91 L241.5,358.35 L242.0,358.32 L242.5,358.17 L243.0,358.48 L243.5,358.82 L244.0,358.80 L244.5,358.97 L245.0,359.90 L245.5,360.24 L246.0,359.21 L246.5,359.33 L247.0,360.12 L247.5,359.65 L248.0,359.35 L248.5,359.26 L249.0,359.09 L249.5,359.62 L250.0,359.64 L250.5,359.62 L251.0,360.60 L251.5,360.36 L252.0,359.51 L252.5,360.75 L253.0,362.02" fill="none" stroke="#000" stroke-width="2.35" stroke-linejoin="round"/>
<path d="M41.0,344.88 L41.5,343.61 L42.0,344.12 L42.5,344.67 L43.0,343.94 L43.5,343.77 L44.0,344.62 L44.5,345.34 L45.0,345.22 L45.5,345.05 L46.0,345.32 L46.5,345.53 L47.0,344.67 L47.5,344.15 L48.0,346.12 L48.5,347.87 L49.0,346.09 L49.5,343.83 L50.0,345.74 L50.5,348.61 L51.0,347.72 L51.5,346.63 L52.0,348.00 L52.5,349.36 L53.0,349.21 L53.5,348.53 L54.0,347.71 L54.5,347.12 L55.0,347.36 L55.5,346.76 L56.0,344.81 L56.5,345.25 L57.0,348.93 L57.5,350.74 L58.0,350.24 L58.5,349.86 L59.0,348.85 L59.5,347.28 L60.0,346.85 L60.5,347.52 L61.0,347.91 L61.5,347.58 L62.0,348.15 L62.5,350.16 L63.0,351.92 L63.5,353.25 L64.0,352.81 L64.5,351.08 L65.0,350.91 L65.5,351.24 L66.0,352.44 L66.5,354.55 L67.0,354.62 L67.5,353.55 L68.0,353.40 L68.5,352.94 L69.0,351.91 L69.5,351.24 L70.0,352.03 L70.5,353.00 L71.0,351.87 L71.5,351.27 L72.0,351.52 L72.5,352.34 L73.0,354.19 L73.5,352.89 L74.0,349.91 L74.5,350.86 L75.0,352.95 L75.5,352.86 L76.0,352.94 L76.5,353.41 L77.0,352.91 L77.5,352.29 L78.0,352.62 L78.5,352.58 L79.0,352.23 L79.5,352.85 L80.0,353.32 L80.5,353.58 L81.0,353.60 L81.5,352.27 L82.0,351.75 L82.5,353.09 L83.0,352.73 L83.5,350.60 L84.0,350.39 L84.5,352.04 L85.0,351.72 L85.5,349.85 L86.0,349.71 L86.5,350.18 L87.0,350.67 L87.5,352.23 L88.0,352.39 L88.5,351.29 L89.0,352.06 L89.5,353.33 L90.0,352.97 L90.5,351.13 L91.0,350.40 L91.5,350.85 L92.0,351.21 L92.5,351.56 L93.0,351.09 L93.5,350.65 L94.0,349.59 L94.5,348.64 L95.0,348.79 L95.5,348.22 L96.0,347.64 L96.5,347.74 L97.0,346.88 L97.5,346.11 L98.0,347.22 L98.5,347.29 L99.0,345.12 L99.5,342.92 L100.0,342.09 L100.5,342.12 L101.0,341.95 L101.5,342.25 L102.0,342.75 L102.5,342.42 L103.0,340.84 L103.5,340.35 L104.0,342.41 L104.5,342.14 L105.0,339.03 L105.5,339.08 L106.0,341.41 L106.5,340.86 L107.0,338.85 L107.5,337.07 L108.0,335.27 L108.5,335.82 L109.0,335.69 L109.5,333.66 L110.0,333.23 L110.5,333.89 L111.0,334.01 L111.5,331.75 L112.0,329.86 L112.5,330.00 L113.0,330.37 L113.5,331.54 L114.0,331.37 L114.5,329.16 L115.0,328.78 L115.5,329.04 L116.0,328.46 L116.5,329.06 L117.0,329.49 L117.5,328.90 L118.0,328.59 L118.5,329.33 L119.0,329.53 L119.5,328.91 L120.0,328.91 L120.5,327.38 L121.0,326.30 L121.5,327.91 L122.0,328.86 L122.5,328.29 L123.0,327.00 L123.5,326.07 L124.0,325.02 L124.5,324.42 L125.0,326.24 L125.5,327.58 L126.0,326.26 L126.5,324.54 L127.0,323.35 L127.5,323.17 L128.0,324.67 L128.5,325.33 L129.0,324.36 L129.5,323.62 L130.0,323.15 L130.5,323.99 L131.0,326.23 L131.5,326.66 L132.0,325.03 L132.5,323.86 L133.0,324.99 L133.5,327.25 L134.0,329.22 L134.5,330.32 L135.0,329.07 L135.5,327.39 L136.0,326.05 L136.5,325.68 L137.0,326.47 L137.5,326.27 L138.0,326.77 L138.5,328.12 L139.0,329.30 L139.5,330.34 L140.0,330.80 L140.5,330.64 L141.0,330.52 L141.5,330.98 L142.0,330.56 L142.5,330.12 L143.0,330.82 L143.5,331.20 L144.0,331.91 L144.5,332.32 L145.0,331.11 L145.5,331.11 L146.0,332.46 L146.5,332.45 L147.0,332.75 L147.5,333.31 L148.0,332.73 L148.5,333.05 L149.0,333.20 L149.5,332.08 L150.0,332.16 L150.5,333.86 L151.0,334.10 L151.5,333.23 L152.0,334.71 L152.5,335.70 L153.0,334.74 L153.5,333.81 L154.0,333.98 L154.5,335.38 L155.0,336.03 L155.5,335.76 L156.0,336.15 L156.5,337.28 L157.0,337.43 L157.5,338.03 L158.0,339.40 L158.5,339.03 L159.0,338.40 L159.5,339.46 L160.0,340.57 L160.5,340.66 L161.0,340.64 L161.5,340.71 L162.0,341.01 L162.5,341.14 L163.0,341.51 L163.5,343.04 L164.0,343.76 L164.5,343.01 L165.0,342.81 L165.5,343.20 L166.0,343.91 L166.5,345.37 L167.0,346.64 L167.5,347.28 L168.0,346.93 L168.5,346.48 L169.0,347.19 L169.5,347.39 L170.0,347.05 L170.5,346.71 L171.0,346.62 L171.5,346.86 L172.0,346.74 L172.5,346.39 L173.0,347.35 L173.5,350.31 L174.0,351.73 L174.5,349.87 L175.0,348.51 L175.5,350.45 L176.0,351.71 L176.5,351.28 L177.0,352.46 L177.5,351.61 L178.0,349.82 L178.5,351.44 L179.0,352.50 L179.5,351.13 L180.0,350.06 L180.5,351.71 L181.0,353.41 L181.5,351.53 L182.0,350.24 L182.5,351.59 L183.0,351.70 L183.5,351.17 L184.0,351.30 L184.5,350.67 L185.0,349.83 L185.5,350.19 L186.0,351.10 L186.5,350.03 L187.0,349.33 L187.5,350.57 L188.0,350.04 L188.5,349.05 L189.0,348.74 L189.5,347.71 L190.0,347.39 L190.5,348.34 L191.0,349.08 L191.5,348.99 L192.0,349.15 L192.5,349.41 L193.0,349.05 L193.5,349.19 L194.0,349.14 L194.5,348.34 L195.0,348.53 L195.5,350.34 L196.0,353.54 L196.5,354.95 L197.0,354.61 L197.5,355.27 L198.0,356.52 L198.5,357.88 L199.0,359.53 L199.5,361.95 L200.0,363.37 L200.5,363.13 L201.0,361.72 L201.5,360.99 L202.0,362.70 L202.5,364.59 L203.0,365.27 L203.5,365.50 L204.0,365.86 L204.5,367.99 L205.0,370.40 L205.5,369.79 L206.0,367.64 L206.5,367.69 L207.0,370.60 L207.5,371.98 L208.0,371.53 L208.5,371.74 L209.0,373.32 L209.5,375.08 L210.0,376.07 L210.5,377.90 L211.0,378.31 L211.5,376.47 L212.0,376.41 L212.5,378.29 L213.0,378.80 L213.5,379.11 L214.0,381.27 L214.5,381.53 L215.0,379.02 L215.5,378.71 L216.0,381.52 L216.5,383.95 L217.0,384.79 L217.5,386.39 L218.0,387.20 L218.5,385.96 L219.0,385.95 L219.5,387.09 L220.0,387.69 L220.5,387.86 L221.0,387.04 L221.5,385.61 L222.0,385.52 L222.5,386.87 L223.0,388.23 L223.5,387.70 L224.0,386.95 L224.5,388.12 L225.0,390.11 L225.5,390.09 L226.0,388.07 L226.5,388.32 L227.0,389.39 L227.5,389.48 L228.0,389.94 L228.5,390.27 L229.0,391.07 L229.5,391.21 L230.0,389.86 L230.5,388.34 L231.0,387.83 L231.5,389.88 L232.0,391.11 L232.5,389.76 L233.0,389.76 L233.5,390.71 L234.0,390.92 L234.5,390.85 L235.0,390.80 L235.5,391.51 L236.0,392.20 L236.5,391.34 L237.0,391.87 L237.5,393.72 L238.0,393.65 L238.5,392.92 L239.0,392.20 L239.5,392.50 L240.0,393.42 L240.5,393.44 L241.0,393.46 L241.5,393.85 L242.0,394.26 L242.5,394.81 L243.0,394.72 L243.5,394.54 L244.0,396.34 L244.5,397.72 L245.0,398.67 L245.5,400.21 L246.0,400.48 L246.5,400.80 L247.0,400.76 L247.5,399.39 L248.0,398.49 L248.5,398.98 L249.0,399.56 L249.5,399.71 L250.0,400.52 L250.5,400.86 L251.0,400.80 L251.5,401.30 L252.0,402.46 L252.5,403.46 L253.0,402.86" fill="none" stroke="#000" stroke-width="2.35" stroke-linejoin="round"/>
<path d="M41.0,399.98 L41.5,398.68 L42.0,401.19 L42.5,403.77 L43.0,404.60 L43.5,404.24 L44.0,401.57 L44.5,400.04 L45.0,400.25 L45.5,401.90 L46.0,404.93 L46.5,403.34 L47.0,399.57 L47.5,400.80 L48.0,401.79 L48.5,401.53 L49.0,403.54 L49.5,403.03 L50.0,401.63 L50.5,402.15 L51.0,403.46 L51.5,405.82 L52.0,406.00 L52.5,404.01 L53.0,403.62 L53.5,403.92 L54.0,403.78 L54.5,404.31 L55.0,404.96 L55.5,406.60 L56.0,407.71 L56.5,406.77 L57.0,406.56 L57.5,407.70 L58.0,408.95 L58.5,409.20 L59.0,408.69 L59.5,407.14 L60.0,403.95 L60.5,402.11 L61.0,406.44 L61.5,411.75 L62.0,409.70 L62.5,406.98 L63.0,408.04 L63.5,408.81 L64.0,409.44 L64.5,408.79 L65.0,406.50 L65.5,407.02 L66.0,408.55 L66.5,407.80 L67.0,407.53 L67.5,408.09 L68.0,409.41 L68.5,409.78 L69.0,409.38 L69.5,409.72 L70.0,408.23 L70.5,407.20 L71.0,408.43 L71.5,408.86 L72.0,406.19 L72.5,403.96 L73.0,406.68 L73.5,410.44 L74.0,411.50 L74.5,413.26 L75.0,415.58 L75.5,413.40 L76.0,410.32 L76.5,410.97 L77.0,412.62 L77.5,413.59 L78.0,413.90 L78.5,412.87 L79.0,412.66 L79.5,414.83 L80.0,415.06 L80.5,412.62 L81.0,411.90 L81.5,412.81 L82.0,411.66 L82.5,410.81 L83.0,412.10 L83.5,413.69 L84.0,411.98 L84.5,408.52 L85.0,409.81 L85.5,410.14 L86.0,409.10 L86.5,412.79 L87.0,414.37 L87.5,411.48 L88.0,411.75 L88.5,413.15 L89.0,411.38 L89.5,409.35 L90.0,410.93 L90.5,413.19 L91.0,411.75 L91.5,410.83 L92.0,411.93 L92.5,413.32 L93.0,414.82 L93.5,413.98 L94.0,410.27 L94.5,408.69 L95.0,409.17 L95.5,407.79 L96.0,407.35 L96.5,408.09 L97.0,407.94 L97.5,409.25 L98.0,411.67 L98.5,412.63 L99.0,411.61 L99.5,411.30 L100.0,413.24 L100.5,411.89 L101.0,408.41 L101.5,410.04 L102.0,412.55 L102.5,412.66 L103.0,413.09 L103.5,414.63 L104.0,415.73 L104.5,413.07 L105.0,410.77 L105.5,411.22 L106.0,411.17 L106.5,411.01 L107.0,410.58 L107.5,411.41 L108.0,413.63 L108.5,413.87 L109.0,411.93 L109.5,411.52 L110.0,412.22 L110.5,410.77 L111.0,411.10 L111.5,411.49 L112.0,411.53 L112.5,413.54 L113.0,412.61 L113.5,411.50 L114.0,413.18 L114.5,414.48 L115.0,413.44 L115.5,411.80 L116.0,412.01 L116.5,413.14 L117.0,414.68 L117.5,414.89 L118.0,413.43 L118.5,413.42 L119.0,413.84 L119.5,412.96 L120.0,413.30 L120.5,414.17 L121.0,413.31 L121.5,411.90 L122.0,410.69 L122.5,410.60 L123.0,412.10 L123.5,411.98 L124.0,409.82 L124.5,410.16 L125.0,412.32 L125.5,412.92 L126.0,411.62 L126.5,410.92 L127.0,411.90 L127.5,412.31 L128.0,411.40 L128.5,410.48 L129.0,410.65 L129.5,410.52 L130.0,409.27 L130.5,407.89 L131.0,406.92 L131.5,408.54 L132.0,411.35 L132.5,412.73 L133.0,412.31 L133.5,409.66 L134.0,410.50 L134.5,412.26 L135.0,409.55 L135.5,408.91 L136.0,411.61 L136.5,412.81 L137.0,411.61 L137.5,410.48 L138.0,412.62 L138.5,415.91 L139.0,415.40 L139.5,412.30 L140.0,410.36 L140.5,411.89 L141.0,414.93 L141.5,413.50 L142.0,409.40 L142.5,409.47 L143.0,413.11 L143.5,413.42 L144.0,410.32 L144.5,411.10 L145.0,414.07 L145.5,412.63 L146.0,408.96 L146.5,408.95 L147.0,410.48 L147.5,410.64 L148.0,411.10 L148.5,411.93 L149.0,411.08 L149.5,408.51 L150.0,409.61 L150.5,411.33 L151.0,410.07 L151.5,409.75 L152.0,409.16 L152.5,409.82 L153.0,412.49 L153.5,413.37 L154.0,411.37 L154.5,409.06 L155.0,409.73 L155.5,411.46 L156.0,412.75 L156.5,411.01 L157.0,407.26 L157.5,407.85 L158.0,410.33 L158.5,410.48 L159.0,409.13 L159.5,408.71 L160.0,409.96 L160.5,412.29 L161.0,413.15 L161.5,411.43 L162.0,410.36 L162.5,411.71 L163.0,413.15 L163.5,411.99 L164.0,412.53 L164.5,413.33 L165.0,410.33 L165.5,409.61 L166.0,411.34 L166.5,412.45 L167.0,413.00 L167.5,410.73 L168.0,408.31 L168.5,408.77 L169.0,408.60 L169.5,407.70 L170.0,409.60 L170.5,409.88 L171.0,407.54 L171.5,407.70 L172.0,410.00 L172.5,411.74 L173.0,410.89 L173.5,409.09 L174.0,409.27 L174.5,410.98 L175.0,409.77 L175.5,407.37 L176.0,408.85 L176.5,409.93 L177.0,408.99 L177.5,408.85 L178.0,406.78 L178.5,403.32 L179.0,403.26 L179.5,404.68 L180.0,403.97 L180.5,402.16 L181.0,400.89 L181.5,399.89 L182.0,400.22 L182.5,402.55 L183.0,402.97 L183.5,402.78 L184.0,403.93 L184.5,402.69 L185.0,400.93 L185.5,401.38 L186.0,403.27 L186.5,404.88 L187.0,405.31 L187.5,406.12 L188.0,407.74 L188.5,408.82 L189.0,407.47 L189.5,404.08 L190.0,402.83 L190.5,406.46 L191.0,409.61 L191.5,409.19 L192.0,408.94 L192.5,409.27 L193.0,409.47 L193.5,409.14 L194.0,408.01 L194.5,407.60 L195.0,408.57 L195.5,410.91 L196.0,412.93 L196.5,411.69 L197.0,408.69 L197.5,408.29 L198.0,409.24 L198.5,408.33 L199.0,408.14 L199.5,410.05 L200.0,410.72 L200.5,411.11 L201.0,412.99 L201.5,413.03 L202.0,412.37 L202.5,414.83 L203.0,418.25 L203.5,419.38 L204.0,418.61 L204.5,417.86 L205.0,417.80 L205.5,417.86 L206.0,417.53 L206.5,418.16 L207.0,419.43 L207.5,420.19 L208.0,419.76 L208.5,417.54 L209.0,418.06 L209.5,421.07 L210.0,423.12 L210.5,423.28 L211.0,422.73 L211.5,424.04 L212.0,424.67 L212.5,424.34 L213.0,423.76 L213.5,422.23 L214.0,423.46 L214.5,426.03 L215.0,426.64 L215.5,426.38 L216.0,426.06 L216.5,426.09 L217.0,425.31 L217.5,424.67 L218.0,427.08 L218.5,429.99 L219.0,430.46 L219.5,429.71 L220.0,428.53 L220.5,429.79 L221.0,432.31 L221.5,432.61 L222.0,430.55 L222.5,430.94 L223.0,435.35 L223.5,434.44 L224.0,431.00 L224.5,431.33 L225.0,432.57 L225.5,433.29 L226.0,433.48 L226.5,434.76 L227.0,435.39 L227.5,435.21 L228.0,436.15 L228.5,435.87 L229.0,435.09 L229.5,435.74 L230.0,436.36 L230.5,436.53 L231.0,436.60 L231.5,437.48 L232.0,438.86 L232.5,439.26 L233.0,440.15 L233.5,440.34 L234.0,439.34 L234.5,438.99 L235.0,437.97 L235.5,438.11 L236.0,440.09 L236.5,440.09 L237.0,438.23 L237.5,437.60 L238.0,439.00 L238.5,439.63 L239.0,438.89 L239.5,439.10 L240.0,438.36 L240.5,438.33 L241.0,441.47 L241.5,440.64 L242.0,438.40 L242.5,441.05 L243.0,441.55 L243.5,438.44 L244.0,437.42 L244.5,438.02 L245.0,438.28 L245.5,439.98 L246.0,439.99 L246.5,437.05 L247.0,437.94 L247.5,441.67 L248.0,442.07 L248.5,438.97 L249.0,437.15 L249.5,437.26 L250.0,436.16 L250.5,437.13 L251.0,440.25 L251.5,441.21 L252.0,440.43 L252.5,439.60 L253.0,440.61" fill="none" stroke="#000" stroke-width="2.35" stroke-linejoin="round"/>
<path d="M329.0,120.66 L329.5,120.63 L330.0,120.60 L330.5,120.57 L331.0,120.53 L331.5,120.50 L332.0,120.46 L332.5,120.43 L333.0,120.39 L333.5,120.36 L334.0,120.32 L334.5,120.28 L335.0,120.24 L335.5,120.20 L336.0,120.16 L336.5,120.12 L337.0,120.08 L337.5,120.04 L338.0,120.00 L338.5,119.95 L339.0,119.91 L339.5,119.86 L340.0,119.82 L340.5,119.77 L341.0,119.72 L341.5,119.67 L342.0,119.62 L342.5,119.57 L343.0,119.52 L343.5,119.47 L344.0,119.41 L344.5,119.36 L345.0,119.31 L345.5,119.26 L346.0,119.21 L346.5,119.15 L347.0,119.10 L347.5,119.05 L348.0,119.00 L348.5,118.95 L349.0,118.90 L349.5,118.85 L350.0,118.80 L350.5,118.75 L351.0,118.70 L351.5,118.65 L352.0,118.60 L352.5,118.55 L353.0,118.50 L353.5,118.45 L354.0,118.40 L354.5,118.35 L355.0,118.30 L355.5,118.25 L356.0,118.20 L356.5,118.15 L357.0,118.10 L357.5,118.05 L358.0,118.00 L358.5,117.95 L359.0,117.90 L359.5,117.85 L360.0,117.80 L360.5,117.75 L361.0,117.70 L361.5,117.65 L362.0,117.60 L362.5,117.55 L363.0,117.50 L363.5,117.45 L364.0,117.40 L364.5,117.35 L365.0,117.30 L365.5,117.25 L366.0,117.20 L366.5,117.15 L367.0,117.10 L367.5,117.05 L368.0,117.00 L368.5,116.96 L369.0,116.91 L369.5,116.86 L370.0,116.82 L370.5,116.78 L371.0,116.74 L371.5,116.70 L372.0,116.66 L372.5,116.62 L373.0,116.57 L373.5,116.53 L374.0,116.48 L374.5,116.43 L375.0,116.38 L375.5,116.33 L376.0,116.27 L376.5,116.21 L377.0,116.14 L377.5,116.06 L378.0,115.97 L378.5,115.88 L379.0,115.77 L379.5,115.64 L380.0,115.50 L380.5,115.34 L381.0,115.17 L381.5,115.00 L382.0,114.81 L382.5,114.61 L383.0,114.41 L383.5,114.20 L384.0,113.98 L384.5,113.75 L385.0,113.51 L385.5,113.26 L386.0,112.99 L386.5,112.70 L387.0,112.41 L387.5,112.09 L388.0,111.76 L388.5,111.41 L389.0,111.04 L389.5,110.65 L390.0,110.24 L390.5,109.82 L391.0,109.38 L391.5,108.94 L392.0,108.48 L392.5,108.00 L393.0,107.50 L393.5,106.98 L394.0,106.43 L394.5,105.85 L395.0,105.24 L395.5,104.59 L396.0,103.90 L396.5,103.16 L397.0,102.39 L397.5,101.56 L398.0,100.69 L398.5,99.79 L399.0,98.87 L399.5,97.97 L400.0,97.09 L400.5,96.24 L401.0,95.42 L401.5,94.62 L402.0,93.84 L402.5,93.07 L403.0,92.29 L403.5,91.49 L404.0,90.66 L404.5,89.80 L405.0,88.89 L405.5,87.93 L406.0,86.92 L406.5,85.87 L407.0,84.79 L407.5,83.67 L408.0,82.54 L408.5,81.40 L409.0,80.27 L409.5,79.15 L410.0,78.03 L410.5,76.93 L411.0,75.84 L411.5,74.76 L412.0,73.68 L412.5,72.60 L413.0,71.51 L413.5,70.41 L414.0,69.30 L414.5,68.17 L415.0,67.04 L415.5,65.90 L416.0,64.75 L416.5,63.63 L417.0,62.52 L417.5,61.43 L418.0,60.38 L418.5,59.36 L419.0,58.36 L419.5,57.39 L420.0,56.44 L420.5,55.52 L421.0,54.63 L421.5,53.78 L422.0,52.96 L422.5,52.20 L423.0,51.48 L423.5,50.81 L424.0,50.18 L424.5,49.59 L425.0,49.04 L425.5,48.55 L426.0,48.12 L426.5,47.76 L427.0,47.47 L427.5,47.24 L428.0,47.05 L428.5,46.90 L429.0,46.79 L429.5,46.73 L430.0,46.71 L430.5,46.75 L431.0,46.85 L431.5,46.99 L432.0,47.20 L432.5,47.48 L433.0,47.84 L433.5,48.31 L434.0,48.88 L434.5,49.57 L435.0,50.37 L435.5,51.25 L436.0,52.22 L436.5,53.26 L437.0,54.36 L437.5,55.50 L438.0,56.66 L438.5,57.82 L439.0,58.97 L439.5,60.12 L440.0,61.27 L440.5,62.40 L441.0,63.54 L441.5,64.67 L442.0,65.78 L442.5,66.88 L443.0,67.96 L443.5,69.02 L444.0,70.06 L444.5,71.08 L445.0,72.09 L445.5,73.08 L446.0,74.06 L446.5,75.02 L447.0,75.97 L447.5,76.90 L448.0,77.82 L448.5,78.72 L449.0,79.60 L449.5,80.46 L450.0,81.31 L450.5,82.13 L451.0,82.94 L451.5,83.73 L452.0,84.50 L452.5,85.23 L453.0,85.94 L453.5,86.63 L454.0,87.29 L454.5,87.93 L455.0,88.56 L455.5,89.16 L456.0,89.76 L456.5,90.33 L457.0,90.89 L457.5,91.43 L458.0,91.96 L458.5,92.47 L459.0,92.96 L459.5,93.44 L460.0,93.90 L460.5,94.34 L461.0,94.77 L461.5,95.19 L462.0,95.60 L462.5,96.01 L463.0,96.41 L463.5,96.80 L464.0,97.20 L464.5,97.60 L465.0,97.99 L465.5,98.38 L466.0,98.76 L466.5,99.14 L467.0,99.51 L467.5,99.89 L468.0,100.28 L468.5,100.69 L469.0,101.13 L469.5,101.59 L470.0,102.09 L470.5,102.64 L471.0,103.23 L471.5,103.86 L472.0,104.53 L472.5,105.24 L473.0,105.97 L473.5,106.71 L474.0,107.47 L474.5,108.24 L475.0,109.02 L475.5,109.80 L476.0,110.60 L476.5,111.40 L477.0,112.23 L477.5,113.06 L478.0,113.90 L478.5,114.75 L479.0,115.60 L479.5,116.45 L480.0,117.31 L480.5,118.16 L481.0,119.02 L481.5,119.89 L482.0,120.77 L482.5,121.66 L483.0,122.56 L483.5,123.45 L484.0,124.33 L484.5,125.20 L485.0,126.03 L485.5,126.82 L486.0,127.57 L486.5,128.26 L487.0,128.90 L487.5,129.50 L488.0,130.06 L488.5,130.59 L489.0,131.09 L489.5,131.57 L490.0,132.03 L490.5,132.48 L491.0,132.91 L491.5,133.32 L492.0,133.73 L492.5,134.12 L493.0,134.51 L493.5,134.89 L494.0,135.26 L494.5,135.63 L495.0,135.99 L495.5,136.36 L496.0,136.71 L496.5,137.07 L497.0,137.41 L497.5,137.76 L498.0,138.09 L498.5,138.42 L499.0,138.74 L499.5,139.06 L500.0,139.36 L500.5,139.66 L501.0,139.94 L501.5,140.22 L502.0,140.48 L502.5,140.74 L503.0,140.98 L503.5,141.22 L504.0,141.45 L504.5,141.67 L505.0,141.89 L505.5,142.10 L506.0,142.30 L506.5,142.50 L507.0,142.69 L507.5,142.88 L508.0,143.06 L508.5,143.23 L509.0,143.40 L509.5,143.55 L510.0,143.71 L510.5,143.85 L511.0,143.99 L511.5,144.12 L512.0,144.25 L512.5,144.38 L513.0,144.50 L513.5,144.61 L514.0,144.73 L514.5,144.84 L515.0,144.95 L515.5,145.05 L516.0,145.16 L516.5,145.26 L517.0,145.35 L517.5,145.44 L518.0,145.53 L518.5,145.62 L519.0,145.70 L519.5,145.78 L520.0,145.85 L520.5,145.93 L521.0,146.00 L521.5,146.06 L522.0,146.13 L522.5,146.19 L523.0,146.25 L523.5,146.31 L524.0,146.37 L524.5,146.43 L525.0,146.48 L525.5,146.54 L526.0,146.59 L526.5,146.64 L527.0,146.68 L527.5,146.73 L528.0,146.77 L528.5,146.82 L529.0,146.86 L529.5,146.89 L530.0,146.93 L530.5,146.96 L531.0,147.00 L531.5,147.03 L532.0,147.06 L532.5,147.09 L533.0,147.12 L533.5,147.14 L534.0,147.17 L534.5,147.20 L535.0,147.22 L535.5,147.25 L536.0,147.27 L536.5,147.29 L537.0,147.31 L537.5,147.33 L538.0,147.35 L538.5,147.36 L539.0,147.37 L539.5,147.39 L540.0,147.40" fill="none" stroke="#000" stroke-width="2.35" stroke-linejoin="round"/>
<path d="M329.0,155.04 L329.5,155.02 L330.0,155.00 L330.5,154.97 L331.0,154.95 L331.5,154.92 L332.0,154.89 L332.5,154.85 L333.0,154.82 L333.5,154.78 L334.0,154.75 L334.5,154.71 L335.0,154.67 L335.5,154.63 L336.0,154.58 L336.5,154.54 L337.0,154.49 L337.5,154.44 L338.0,154.39 L338.5,154.34 L339.0,154.28 L339.5,154.22 L340.0,154.16 L340.5,154.09 L341.0,154.02 L341.5,153.95 L342.0,153.88 L342.5,153.80 L343.0,153.72 L343.5,153.65 L344.0,153.57 L344.5,153.49 L345.0,153.42 L345.5,153.34 L346.0,153.27 L346.5,153.20 L347.0,153.13 L347.5,153.07 L348.0,153.01 L348.5,152.95 L349.0,152.89 L349.5,152.83 L350.0,152.78 L350.5,152.73 L351.0,152.68 L351.5,152.63 L352.0,152.58 L352.5,152.53 L353.0,152.48 L353.5,152.43 L354.0,152.38 L354.5,152.34 L355.0,152.29 L355.5,152.24 L356.0,152.19 L356.5,152.15 L357.0,152.10 L357.5,152.05 L358.0,152.00 L358.5,151.95 L359.0,151.90 L359.5,151.85 L360.0,151.81 L360.5,151.76 L361.0,151.71 L361.5,151.66 L362.0,151.62 L362.5,151.57 L363.0,151.52 L363.5,151.47 L364.0,151.42 L364.5,151.37 L365.0,151.32 L365.5,151.27 L366.0,151.22 L366.5,151.17 L367.0,151.11 L367.5,151.06 L368.0,151.00 L368.5,150.94 L369.0,150.88 L369.5,150.82 L370.0,150.77 L370.5,150.71 L371.0,150.64 L371.5,150.58 L372.0,150.52 L372.5,150.46 L373.0,150.39 L373.5,150.32 L374.0,150.25 L374.5,150.18 L375.0,150.11 L375.5,150.03 L376.0,149.95 L376.5,149.86 L377.0,149.78 L377.5,149.69 L378.0,149.59 L378.5,149.49 L379.0,149.39 L379.5,149.28 L380.0,149.17 L380.5,149.05 L381.0,148.92 L381.5,148.78 L382.0,148.64 L382.5,148.49 L383.0,148.33 L383.5,148.16 L384.0,147.97 L384.5,147.77 L385.0,147.55 L385.5,147.30 L386.0,147.02 L386.5,146.71 L387.0,146.37 L387.5,146.00 L388.0,145.60 L388.5,145.18 L389.0,144.73 L389.5,144.25 L390.0,143.74 L390.5,143.19 L391.0,142.62 L391.5,142.03 L392.0,141.42 L392.5,140.81 L393.0,140.20 L393.5,139.58 L394.0,138.96 L394.5,138.34 L395.0,137.72 L395.5,137.10 L396.0,136.49 L396.5,135.89 L397.0,135.30 L397.5,134.72 L398.0,134.16 L398.5,133.60 L399.0,133.05 L399.5,132.48 L400.0,131.91 L400.5,131.33 L401.0,130.73 L401.5,130.12 L402.0,129.49 L402.5,128.84 L403.0,128.17 L403.5,127.47 L404.0,126.74 L404.5,125.96 L405.0,125.13 L405.5,124.25 L406.0,123.31 L406.5,122.33 L407.0,121.33 L407.5,120.33 L408.0,119.35 L408.5,118.39 L409.0,117.46 L409.5,116.55 L410.0,115.65 L410.5,114.74 L411.0,113.81 L411.5,112.86 L412.0,111.87 L412.5,110.87 L413.0,109.83 L413.5,108.78 L414.0,107.71 L414.5,106.62 L415.0,105.51 L415.5,104.39 L416.0,103.27 L416.5,102.15 L417.0,101.04 L417.5,99.95 L418.0,98.89 L418.5,97.85 L419.0,96.83 L419.5,95.84 L420.0,94.86 L420.5,93.90 L421.0,92.96 L421.5,92.03 L422.0,91.13 L422.5,90.26 L423.0,89.45 L423.5,88.69 L424.0,88.00 L424.5,87.37 L425.0,86.80 L425.5,86.29 L426.0,85.84 L426.5,85.44 L427.0,85.09 L427.5,84.79 L428.0,84.55 L428.5,84.39 L429.0,84.31 L429.5,84.31 L430.0,84.40 L430.5,84.56 L431.0,84.78 L431.5,85.05 L432.0,85.38 L432.5,85.77 L433.0,86.23 L433.5,86.77 L434.0,87.38 L434.5,88.07 L435.0,88.86 L435.5,89.73 L436.0,90.68 L436.5,91.71 L437.0,92.80 L437.5,93.93 L438.0,95.09 L438.5,96.23 L439.0,97.33 L439.5,98.37 L440.0,99.38 L440.5,100.36 L441.0,101.33 L441.5,102.31 L442.0,103.30 L442.5,104.29 L443.0,105.30 L443.5,106.30 L444.0,107.31 L444.5,108.31 L445.0,109.31 L445.5,110.29 L446.0,111.24 L446.5,112.16 L447.0,113.04 L447.5,113.89 L448.0,114.70 L448.5,115.49 L449.0,116.28 L449.5,117.08 L450.0,117.90 L450.5,118.74 L451.0,119.59 L451.5,120.45 L452.0,121.30 L452.5,122.13 L453.0,122.94 L453.5,123.71 L454.0,124.46 L454.5,125.18 L455.0,125.87 L455.5,126.52 L456.0,127.13 L456.5,127.69 L457.0,128.21 L457.5,128.69 L458.0,129.13 L458.5,129.54 L459.0,129.94 L459.5,130.32 L460.0,130.68 L460.5,131.04 L461.0,131.39 L461.5,131.74 L462.0,132.07 L462.5,132.40 L463.0,132.73 L463.5,133.05 L464.0,133.38 L464.5,133.72 L465.0,134.06 L465.5,134.42 L466.0,134.79 L466.5,135.17 L467.0,135.56 L467.5,135.97 L468.0,136.39 L468.5,136.82 L469.0,137.28 L469.5,137.76 L470.0,138.27 L470.5,138.82 L471.0,139.41 L471.5,140.03 L472.0,140.67 L472.5,141.32 L473.0,141.98 L473.5,142.64 L474.0,143.29 L474.5,143.93 L475.0,144.58 L475.5,145.23 L476.0,145.88 L476.5,146.54 L477.0,147.21 L477.5,147.90 L478.0,148.60 L478.5,149.32 L479.0,150.06 L479.5,150.83 L480.0,151.62 L480.5,152.44 L481.0,153.28 L481.5,154.14 L482.0,155.00 L482.5,155.86 L483.0,156.72 L483.5,157.56 L484.0,158.38 L484.5,159.18 L485.0,159.96 L485.5,160.72 L486.0,161.47 L486.5,162.21 L487.0,162.93 L487.5,163.64 L488.0,164.34 L488.5,165.01 L489.0,165.66 L489.5,166.28 L490.0,166.87 L490.5,167.42 L491.0,167.95 L491.5,168.45 L492.0,168.93 L492.5,169.39 L493.0,169.84 L493.5,170.28 L494.0,170.70 L494.5,171.11 L495.0,171.50 L495.5,171.88 L496.0,172.24 L496.5,172.58 L497.0,172.90 L497.5,173.19 L498.0,173.47 L498.5,173.73 L499.0,173.97 L499.5,174.19 L500.0,174.39 L500.5,174.59 L501.0,174.78 L501.5,174.95 L502.0,175.12 L502.5,175.28 L503.0,175.44 L503.5,175.59 L504.0,175.73 L504.5,175.87 L505.0,176.01 L505.5,176.14 L506.0,176.27 L506.5,176.39 L507.0,176.52 L507.5,176.64 L508.0,176.76 L508.5,176.88 L509.0,177.00 L509.5,177.12 L510.0,177.24 L510.5,177.36 L511.0,177.47 L511.5,177.59 L512.0,177.71 L512.5,177.82 L513.0,177.93 L513.5,178.04 L514.0,178.15 L514.5,178.25 L515.0,178.35 L515.5,178.44 L516.0,178.54 L516.5,178.62 L517.0,178.71 L517.5,178.79 L518.0,178.86 L518.5,178.93 L519.0,178.99 L519.5,179.05 L520.0,179.11 L520.5,179.17 L521.0,179.22 L521.5,179.27 L522.0,179.32 L522.5,179.37 L523.0,179.42 L523.5,179.46 L524.0,179.51 L524.5,179.55 L525.0,179.59 L525.5,179.63 L526.0,179.67 L526.5,179.71 L527.0,179.74 L527.5,179.78 L528.0,179.81 L528.5,179.85 L529.0,179.88 L529.5,179.91 L530.0,179.94 L530.5,179.97 L531.0,180.00 L531.5,180.03 L532.0,180.05 L532.5,180.08 L533.0,180.11 L533.5,180.13 L534.0,180.16 L534.5,180.18 L535.0,180.21 L535.5,180.23 L536.0,180.25 L536.5,180.28 L537.0,180.30 L537.5,180.32 L538.0,180.33 L538.5,180.35 L539.0,180.37 L539.5,180.38 L540.0,180.40" fill="none" stroke="#000" stroke-width="2.35" stroke-linejoin="round"/>
<path d="M329.0,200.14 L329.5,200.07 L330.0,200.00 L330.5,199.93 L331.0,199.87 L331.5,199.80 L332.0,199.73 L332.5,199.67 L333.0,199.60 L333.5,199.54 L334.0,199.48 L334.5,199.41 L335.0,199.35 L335.5,199.29 L336.0,199.23 L336.5,199.17 L337.0,199.12 L337.5,199.06 L338.0,199.00 L338.5,198.95 L339.0,198.89 L339.5,198.84 L340.0,198.79 L340.5,198.74 L341.0,198.68 L341.5,198.63 L342.0,198.58 L342.5,198.54 L343.0,198.49 L343.5,198.44 L344.0,198.39 L344.5,198.34 L345.0,198.29 L345.5,198.24 L346.0,198.20 L346.5,198.15 L347.0,198.10 L347.5,198.05 L348.0,198.00 L348.5,197.95 L349.0,197.90 L349.5,197.85 L350.0,197.80 L350.5,197.75 L351.0,197.70 L351.5,197.65 L352.0,197.60 L352.5,197.55 L353.0,197.50 L353.5,197.45 L354.0,197.40 L354.5,197.35 L355.0,197.30 L355.5,197.25 L356.0,197.20 L356.5,197.15 L357.0,197.10 L357.5,197.05 L358.0,197.00 L358.5,196.95 L359.0,196.90 L359.5,196.86 L360.0,196.81 L360.5,196.76 L361.0,196.71 L361.5,196.67 L362.0,196.62 L362.5,196.57 L363.0,196.53 L363.5,196.48 L364.0,196.43 L364.5,196.38 L365.0,196.33 L365.5,196.28 L366.0,196.23 L366.5,196.17 L367.0,196.12 L367.5,196.06 L368.0,196.00 L368.5,195.94 L369.0,195.88 L369.5,195.81 L370.0,195.75 L370.5,195.68 L371.0,195.62 L371.5,195.55 L372.0,195.48 L372.5,195.41 L373.0,195.34 L373.5,195.26 L374.0,195.18 L374.5,195.09 L375.0,195.01 L375.5,194.92 L376.0,194.82 L376.5,194.72 L377.0,194.61 L377.5,194.50 L378.0,194.37 L378.5,194.24 L379.0,194.09 L379.5,193.92 L380.0,193.75 L380.5,193.56 L381.0,193.36 L381.5,193.15 L382.0,192.93 L382.5,192.71 L383.0,192.49 L383.5,192.26 L384.0,192.02 L384.5,191.78 L385.0,191.52 L385.5,191.26 L386.0,190.99 L386.5,190.71 L387.0,190.41 L387.5,190.11 L388.0,189.79 L388.5,189.45 L389.0,189.08 L389.5,188.68 L390.0,188.25 L390.5,187.79 L391.0,187.31 L391.5,186.82 L392.0,186.32 L392.5,185.83 L393.0,185.34 L393.5,184.86 L394.0,184.38 L394.5,183.89 L395.0,183.38 L395.5,182.85 L396.0,182.27 L396.5,181.65 L397.0,180.97 L397.5,180.25 L398.0,179.49 L398.5,178.71 L399.0,177.93 L399.5,177.15 L400.0,176.39 L400.5,175.65 L401.0,174.90 L401.5,174.14 L402.0,173.35 L402.5,172.52 L403.0,171.63 L403.5,170.70 L404.0,169.73 L404.5,168.74 L405.0,167.75 L405.5,166.75 L406.0,165.74 L406.5,164.70 L407.0,163.60 L407.5,162.40 L408.0,161.11 L408.5,159.76 L409.0,158.38 L409.5,157.01 L410.0,155.71 L410.5,154.45 L411.0,153.25 L411.5,152.10 L412.0,150.97 L412.5,149.86 L413.0,148.77 L413.5,147.70 L414.0,146.63 L414.5,145.56 L415.0,144.47 L415.5,143.37 L416.0,142.26 L416.5,141.13 L417.0,140.01 L417.5,138.89 L418.0,137.80 L418.5,136.72 L419.0,135.66 L419.5,134.63 L420.0,133.62 L420.5,132.63 L421.0,131.67 L421.5,130.74 L422.0,129.84 L422.5,128.96 L423.0,128.12 L423.5,127.34 L424.0,126.62 L424.5,125.97 L425.0,125.38 L425.5,124.86 L426.0,124.39 L426.5,124.00 L427.0,123.69 L427.5,123.47 L428.0,123.33 L428.5,123.26 L429.0,123.23 L429.5,123.25 L430.0,123.30 L430.5,123.42 L431.0,123.62 L431.5,123.91 L432.0,124.30 L432.5,124.78 L433.0,125.35 L433.5,126.02 L434.0,126.78 L434.5,127.60 L435.0,128.49 L435.5,129.41 L436.0,130.37 L436.5,131.36 L437.0,132.39 L437.5,133.46 L438.0,134.56 L438.5,135.69 L439.0,136.85 L439.5,138.01 L440.0,139.18 L440.5,140.35 L441.0,141.50 L441.5,142.65 L442.0,143.78 L442.5,144.89 L443.0,145.97 L443.5,147.02 L444.0,148.03 L444.5,148.98 L445.0,149.87 L445.5,150.70 L446.0,151.48 L446.5,152.24 L447.0,152.99 L447.5,153.76 L448.0,154.56 L448.5,155.39 L449.0,156.24 L449.5,157.11 L450.0,157.98 L450.5,158.84 L451.0,159.66 L451.5,160.46 L452.0,161.22 L452.5,161.96 L453.0,162.67 L453.5,163.37 L454.0,164.04 L454.5,164.70 L455.0,165.35 L455.5,165.98 L456.0,166.60 L456.5,167.21 L457.0,167.79 L457.5,168.37 L458.0,168.92 L458.5,169.45 L459.0,169.95 L459.5,170.44 L460.0,170.90 L460.5,171.34 L461.0,171.77 L461.5,172.19 L462.0,172.60 L462.5,173.00 L463.0,173.40 L463.5,173.80 L464.0,174.19 L464.5,174.60 L465.0,175.00 L465.5,175.40 L466.0,175.79 L466.5,176.19 L467.0,176.58 L467.5,176.97 L468.0,177.37 L468.5,177.78 L469.0,178.19 L469.5,178.63 L470.0,179.08 L470.5,179.56 L471.0,180.06 L471.5,180.60 L472.0,181.16 L472.5,181.76 L473.0,182.38 L473.5,183.03 L474.0,183.70 L474.5,184.39 L475.0,185.09 L475.5,185.81 L476.0,186.54 L476.5,187.28 L477.0,188.03 L477.5,188.80 L478.0,189.58 L478.5,190.38 L479.0,191.20 L479.5,192.04 L480.0,192.88 L480.5,193.74 L481.0,194.59 L481.5,195.45 L482.0,196.30 L482.5,197.15 L483.0,198.00 L483.5,198.86 L484.0,199.71 L484.5,200.57 L485.0,201.44 L485.5,202.31 L486.0,203.17 L486.5,204.03 L487.0,204.88 L487.5,205.71 L488.0,206.51 L488.5,207.29 L489.0,208.04 L489.5,208.75 L490.0,209.43 L490.5,210.08 L491.0,210.70 L491.5,211.29 L492.0,211.86 L492.5,212.41 L493.0,212.95 L493.5,213.47 L494.0,213.99 L494.5,214.49 L495.0,214.99 L495.5,215.49 L496.0,215.97 L496.5,216.46 L497.0,216.93 L497.5,217.39 L498.0,217.84 L498.5,218.27 L499.0,218.69 L499.5,219.09 L500.0,219.46 L500.5,219.82 L501.0,220.17 L501.5,220.50 L502.0,220.82 L502.5,221.13 L503.0,221.42 L503.5,221.70 L504.0,221.97 L504.5,222.23 L505.0,222.48 L505.5,222.73 L506.0,222.96 L506.5,223.19 L507.0,223.40 L507.5,223.61 L508.0,223.81 L508.5,224.00 L509.0,224.17 L509.5,224.33 L510.0,224.47 L510.5,224.60 L511.0,224.72 L511.5,224.83 L512.0,224.94 L512.5,225.04 L513.0,225.13 L513.5,225.22 L514.0,225.32 L514.5,225.41 L515.0,225.51 L515.5,225.61 L516.0,225.71 L516.5,225.82 L517.0,225.93 L517.5,226.03 L518.0,226.13 L518.5,226.23 L519.0,226.32 L519.5,226.41 L520.0,226.49 L520.5,226.56 L521.0,226.63 L521.5,226.69 L522.0,226.76 L522.5,226.82 L523.0,226.87 L523.5,226.93 L524.0,226.98 L524.5,227.04 L525.0,227.09 L525.5,227.13 L526.0,227.18 L526.5,227.23 L527.0,227.27 L527.5,227.31 L528.0,227.35 L528.5,227.39 L529.0,227.43 L529.5,227.46 L530.0,227.50 L530.5,227.53 L531.0,227.56 L531.5,227.60 L532.0,227.63 L532.5,227.66 L533.0,227.69 L533.5,227.72 L534.0,227.75 L534.5,227.77 L535.0,227.80 L535.5,227.83 L536.0,227.85 L536.5,227.87 L537.0,227.89 L537.5,227.92 L538.0,227.93 L538.5,227.95 L539.0,227.97 L539.5,227.98 L540.0,228.00" fill="none" stroke="#000" stroke-width="2.35" stroke-linejoin="round"/>
<path d="M329.0,228.71 L329.5,228.32 L330.0,228.28 L330.5,228.60 L331.0,228.88 L331.5,228.99 L332.0,229.23 L332.5,229.47 L333.0,229.25 L333.5,229.00 L334.0,228.83 L334.5,228.70 L335.0,228.95 L335.5,229.03 L336.0,228.43 L336.5,227.99 L337.0,228.41 L337.5,228.81 L338.0,228.73 L338.5,228.99 L339.0,229.38 L339.5,228.92 L340.0,228.37 L340.5,228.51 L341.0,228.61 L341.5,228.44 L342.0,228.41 L342.5,228.74 L343.0,228.91 L343.5,228.50 L344.0,228.08 L344.5,228.40 L345.0,228.95 L345.5,228.74 L346.0,228.53 L346.5,228.64 L347.0,228.46 L347.5,228.24 L348.0,228.27 L348.5,228.52 L349.0,228.81 L349.5,228.93 L350.0,228.62 L350.5,228.18 L351.0,228.17 L351.5,228.35 L352.0,228.30 L352.5,228.22 L353.0,228.45 L353.5,228.60 L354.0,228.10 L354.5,227.80 L355.0,228.11 L355.5,228.21 L356.0,228.28 L356.5,228.56 L357.0,228.66 L357.5,228.77 L358.0,228.76 L358.5,228.48 L359.0,228.37 L359.5,228.28 L360.0,227.88 L360.5,227.42 L361.0,227.71 L361.5,228.36 L362.0,228.48 L362.5,228.10 L363.0,227.95 L363.5,228.46 L364.0,228.43 L364.5,227.80 L365.0,227.90 L365.5,228.26 L366.0,228.01 L366.5,227.72 L367.0,227.91 L367.5,228.04 L368.0,228.05 L368.5,228.31 L369.0,228.29 L369.5,228.20 L370.0,228.19 L370.5,228.17 L371.0,228.23 L371.5,228.13 L372.0,228.04 L372.5,227.91 L373.0,228.06 L373.5,228.16 L374.0,227.97 L374.5,227.90 L375.0,227.68 L375.5,227.65 L376.0,227.88 L376.5,228.00 L377.0,228.10 L377.5,228.46 L378.0,228.78 L378.5,228.43 L379.0,227.91 L379.5,227.73 L380.0,227.72 L380.5,227.63 L381.0,227.69 L381.5,227.95 L382.0,227.64 L382.5,227.05 L383.0,227.05 L383.5,227.33 L384.0,227.13 L384.5,226.57 L385.0,226.15 L385.5,226.08 L386.0,226.13 L386.5,225.73 L387.0,225.37 L387.5,225.15 L388.0,224.64 L388.5,224.77 L389.0,225.22 L389.5,224.52 L390.0,223.35 L390.5,222.83 L391.0,222.73 L391.5,222.64 L392.0,222.40 L392.5,222.07 L393.0,221.61 L393.5,220.88 L394.0,220.10 L394.5,219.64 L395.0,219.18 L395.5,218.88 L396.0,218.92 L396.5,218.23 L397.0,217.35 L397.5,217.01 L398.0,216.54 L398.5,215.95 L399.0,215.10 L399.5,214.12 L400.0,213.33 L400.5,212.71 L401.0,212.17 L401.5,211.79 L402.0,211.57 L402.5,211.11 L403.0,210.68 L403.5,210.20 L404.0,209.25 L404.5,208.80 L405.0,208.53 L405.5,207.35 L406.0,206.35 L406.5,205.73 L407.0,204.59 L407.5,203.04 L408.0,201.92 L408.5,201.39 L409.0,200.52 L409.5,199.29 L410.0,198.32 L410.5,197.58 L411.0,196.55 L411.5,195.15 L412.0,193.96 L412.5,192.63 L413.0,191.37 L413.5,190.64 L414.0,189.49 L414.5,188.39 L415.0,187.50 L415.5,186.42 L416.0,185.64 L416.5,184.61 L417.0,183.13 L417.5,181.95 L418.0,181.08 L418.5,180.11 L419.0,178.98 L419.5,177.96 L420.0,177.23 L420.5,176.78 L421.0,176.17 L421.5,175.40 L422.0,174.97 L422.5,174.46 L423.0,173.62 L423.5,172.89 L424.0,172.85 L424.5,173.03 L425.0,172.97 L425.5,172.87 L426.0,172.36 L426.5,172.11 L427.0,172.32 L427.5,172.42 L428.0,172.80 L428.5,173.21 L429.0,173.26 L429.5,173.20 L430.0,173.44 L430.5,174.18 L431.0,174.82 L431.5,175.25 L432.0,175.82 L432.5,176.62 L433.0,177.63 L433.5,178.57 L434.0,179.51 L434.5,180.65 L435.0,181.75 L435.5,182.67 L436.0,183.52 L436.5,184.56 L437.0,185.71 L437.5,186.79 L438.0,187.90 L438.5,189.05 L439.0,190.06 L439.5,190.74 L440.0,191.57 L440.5,192.72 L441.0,193.75 L441.5,194.69 L442.0,195.77 L442.5,196.85 L443.0,197.51 L443.5,198.00 L444.0,199.11 L444.5,200.33 L445.0,200.91 L445.5,201.50 L446.0,202.33 L446.5,203.18 L447.0,204.30 L447.5,205.46 L448.0,206.28 L448.5,207.14 L449.0,208.34 L449.5,209.26 L450.0,210.10 L450.5,211.12 L451.0,211.67 L451.5,212.44 L452.0,213.38 L452.5,213.86 L453.0,214.16 L453.5,214.26 L454.0,214.57 L454.5,215.62 L455.0,216.27 L455.5,215.93 L456.0,215.71 L456.5,215.93 L457.0,216.19 L457.5,216.61 L458.0,216.98 L458.5,217.28 L459.0,217.62 L459.5,217.49 L460.0,217.45 L460.5,218.02 L461.0,218.57 L461.5,218.93 L462.0,219.29 L462.5,219.53 L463.0,219.82 L463.5,220.19 L464.0,220.51 L464.5,221.01 L465.0,221.42 L465.5,222.04 L466.0,222.80 L466.5,223.04 L467.0,223.65 L467.5,224.56 L468.0,225.24 L468.5,225.89 L469.0,226.24 L469.5,226.56 L470.0,227.30 L470.5,228.19 L471.0,228.76 L471.5,229.08 L472.0,229.58 L472.5,229.91 L473.0,229.92 L473.5,230.29 L474.0,231.10 L474.5,231.66 L475.0,232.29 L475.5,233.61 L476.0,234.84 L476.5,235.40 L477.0,235.75 L477.5,236.41 L478.0,237.33 L478.5,238.44 L479.0,239.48 L479.5,240.34 L480.0,241.35 L480.5,242.42 L481.0,243.11 L481.5,243.68 L482.0,244.62 L482.5,245.52 L483.0,246.02 L483.5,246.45 L484.0,247.06 L484.5,247.88 L485.0,248.30 L485.5,248.74 L486.0,249.63 L486.5,250.10 L487.0,250.80 L487.5,252.03 L488.0,252.89 L488.5,253.33 L489.0,253.73 L489.5,254.18 L490.0,254.59 L490.5,254.87 L491.0,255.38 L491.5,256.05 L492.0,256.48 L492.5,257.07 L493.0,257.56 L493.5,257.63 L494.0,257.50 L494.5,257.34 L495.0,257.47 L495.5,257.80 L496.0,258.30 L496.5,258.71 L497.0,258.90 L497.5,259.52 L498.0,260.12 L498.5,260.37 L499.0,260.20 L499.5,259.90 L500.0,260.45 L500.5,261.14 L501.0,261.39 L501.5,261.55 L502.0,261.66 L502.5,261.81 L503.0,262.17 L503.5,262.39 L504.0,262.22 L504.5,262.45 L505.0,262.86 L505.5,262.88 L506.0,262.75 L506.5,262.63 L507.0,262.81 L507.5,262.91 L508.0,262.64 L508.5,262.91 L509.0,263.52 L509.5,263.77 L510.0,263.91 L510.5,263.79 L511.0,263.29 L511.5,263.26 L512.0,263.59 L512.5,263.54 L513.0,263.59 L513.5,264.13 L514.0,264.63 L514.5,264.78 L515.0,264.69 L515.5,264.86 L516.0,265.19 L516.5,265.00 L517.0,264.79 L517.5,264.92 L518.0,265.10 L518.5,265.29 L519.0,265.37 L519.5,265.41 L520.0,265.75 L520.5,266.09 L521.0,266.12 L521.5,265.99 L522.0,266.19 L522.5,266.59 L523.0,266.75 L523.5,267.10 L524.0,266.99 L524.5,266.49 L525.0,266.74 L525.5,266.85 L526.0,266.74 L526.5,267.12 L527.0,267.38 L527.5,267.43 L528.0,267.46 L528.5,267.36 L529.0,267.56 L529.5,267.92 L530.0,267.69 L530.5,267.03 L531.0,266.76 L531.5,266.95 L532.0,267.08 L532.5,267.36 L533.0,267.74 L533.5,267.71 L534.0,267.64 L534.5,268.05 L535.0,268.69 L535.5,268.77 L536.0,268.32 L536.5,268.11 L537.0,268.07 L537.5,267.75 L538.0,267.69 L538.5,267.96 L539.0,268.04 L539.5,268.11 L540.0,268.28" fill="none" stroke="#000" stroke-width="2.35" stroke-linejoin="round"/>
<path d="M329.0,266.73 L329.5,266.18 L330.0,265.88 L330.5,266.37 L331.0,266.57 L331.5,266.62 L332.0,267.47 L332.5,268.20 L333.0,268.21 L333.5,268.25 L334.0,268.17 L334.5,267.65 L335.0,267.40 L335.5,267.64 L336.0,268.44 L336.5,268.64 L337.0,268.06 L337.5,268.13 L338.0,268.06 L338.5,268.21 L339.0,268.44 L339.5,268.27 L340.0,269.04 L340.5,269.77 L341.0,269.88 L341.5,269.89 L342.0,269.41 L342.5,269.53 L343.0,269.90 L343.5,269.26 L344.0,269.25 L344.5,270.12 L345.0,270.74 L345.5,270.72 L346.0,270.18 L346.5,270.48 L347.0,271.12 L347.5,271.13 L348.0,270.84 L348.5,270.54 L349.0,270.45 L349.5,270.26 L350.0,270.48 L350.5,270.69 L351.0,270.27 L351.5,270.43 L352.0,270.92 L352.5,270.59 L353.0,270.40 L353.5,271.39 L354.0,271.82 L354.5,271.08 L355.0,270.72 L355.5,270.51 L356.0,270.38 L356.5,270.99 L357.0,271.34 L357.5,271.25 L358.0,271.14 L358.5,271.22 L359.0,272.09 L359.5,271.95 L360.0,270.66 L360.5,270.84 L361.0,271.59 L361.5,271.32 L362.0,271.12 L362.5,271.86 L363.0,272.44 L363.5,272.02 L364.0,272.01 L364.5,272.42 L365.0,272.27 L365.5,272.13 L366.0,272.10 L366.5,271.91 L367.0,272.22 L367.5,273.03 L368.0,273.36 L368.5,273.08 L369.0,272.22 L369.5,271.64 L370.0,271.59 L370.5,271.33 L371.0,271.15 L371.5,271.27 L372.0,271.58 L372.5,271.81 L373.0,271.96 L373.5,272.14 L374.0,272.22 L374.5,272.00 L375.0,271.96 L375.5,272.10 L376.0,271.40 L376.5,271.16 L377.0,272.20 L377.5,272.33 L378.0,271.88 L378.5,271.96 L379.0,271.54 L379.5,270.73 L380.0,270.73 L380.5,271.14 L381.0,271.03 L381.5,270.70 L382.0,270.52 L382.5,270.43 L383.0,270.40 L383.5,270.78 L384.0,271.02 L384.5,270.63 L385.0,270.44 L385.5,270.75 L386.0,270.38 L386.5,269.11 L387.0,268.52 L387.5,268.71 L388.0,268.03 L388.5,267.31 L389.0,267.86 L389.5,268.58 L390.0,268.72 L390.5,268.18 L391.0,267.16 L391.5,266.49 L392.0,266.95 L392.5,267.42 L393.0,266.41 L393.5,265.22 L394.0,265.23 L394.5,265.69 L395.0,265.37 L395.5,264.32 L396.0,263.41 L396.5,263.25 L397.0,263.25 L397.5,263.20 L398.0,263.42 L398.5,262.83 L399.0,261.53 L399.5,261.28 L400.0,261.51 L400.5,260.83 L401.0,259.78 L401.5,258.85 L402.0,258.15 L402.5,257.83 L403.0,257.63 L403.5,256.67 L404.0,255.48 L404.5,255.27 L405.0,254.25 L405.5,252.37 L406.0,251.84 L406.5,251.95 L407.0,251.47 L407.5,249.20 L408.0,247.00 L408.5,247.09 L409.0,246.62 L409.5,245.19 L410.0,244.24 L410.5,242.91 L411.0,241.31 L411.5,239.65 L412.0,238.12 L412.5,237.32 L413.0,236.28 L413.5,235.13 L414.0,235.08 L414.5,234.49 L415.0,232.35 L415.5,230.46 L416.0,229.64 L416.5,229.03 L417.0,228.06 L417.5,227.29 L418.0,227.01 L418.5,226.41 L419.0,225.49 L419.5,225.27 L420.0,224.61 L420.5,222.72 L421.0,221.67 L421.5,221.72 L422.0,221.97 L422.5,222.18 L423.0,221.70 L423.5,221.07 L424.0,220.63 L424.5,219.82 L425.0,219.13 L425.5,219.25 L426.0,219.33 L426.5,219.49 L427.0,220.15 L427.5,220.17 L428.0,220.36 L428.5,221.36 L429.0,222.49 L429.5,223.23 L430.0,222.82 L430.5,222.71 L431.0,223.43 L431.5,224.06 L432.0,224.73 L432.5,225.29 L433.0,225.93 L433.5,226.03 L434.0,225.67 L434.5,226.92 L435.0,229.35 L435.5,230.65 L436.0,231.27 L436.5,232.38 L437.0,233.47 L437.5,234.50 L438.0,234.84 L438.5,234.84 L439.0,236.03 L439.5,237.67 L440.0,239.00 L440.5,240.24 L441.0,241.29 L441.5,241.58 L442.0,242.04 L442.5,243.77 L443.0,244.97 L443.5,245.73 L444.0,246.64 L444.5,246.81 L445.0,246.83 L445.5,247.93 L446.0,249.76 L446.5,251.04 L447.0,251.99 L447.5,252.63 L448.0,253.62 L448.5,254.65 L449.0,255.09 L449.5,255.76 L450.0,257.10 L450.5,259.30 L451.0,260.11 L451.5,259.66 L452.0,260.02 L452.5,260.62 L453.0,260.86 L453.5,261.03 L454.0,261.45 L454.5,261.82 L455.0,262.54 L455.5,263.02 L456.0,262.66 L456.5,262.57 L457.0,262.62 L457.5,262.69 L458.0,262.39 L458.5,261.30 L459.0,261.51 L459.5,263.16 L460.0,263.92 L460.5,264.24 L461.0,264.44 L461.5,264.16 L462.0,264.17 L462.5,264.16 L463.0,263.96 L463.5,264.62 L464.0,266.10 L464.5,266.69 L465.0,266.12 L465.5,266.17 L466.0,266.88 L466.5,266.85 L467.0,266.72 L467.5,267.39 L468.0,268.21 L468.5,269.09 L469.0,269.81 L469.5,270.45 L470.0,271.51 L470.5,272.12 L471.0,272.56 L471.5,273.51 L472.0,274.53 L472.5,275.20 L473.0,275.82 L473.5,276.59 L474.0,277.49 L474.5,278.46 L475.0,278.74 L475.5,279.52 L476.0,280.69 L476.5,280.87 L477.0,281.52 L477.5,282.94 L478.0,284.50 L478.5,285.42 L479.0,285.21 L479.5,285.56 L480.0,286.44 L480.5,286.64 L481.0,286.85 L481.5,287.63 L482.0,288.88 L482.5,290.17 L483.0,290.86 L483.5,291.04 L484.0,291.67 L484.5,292.47 L485.0,292.34 L485.5,292.29 L486.0,293.68 L486.5,295.23 L487.0,296.16 L487.5,297.02 L488.0,297.05 L488.5,296.86 L489.0,297.67 L489.5,298.87 L490.0,299.36 L490.5,299.17 L491.0,299.95 L491.5,300.70 L492.0,300.55 L492.5,300.99 L493.0,301.41 L493.5,301.36 L494.0,301.61 L494.5,302.36 L495.0,302.40 L495.5,302.18 L496.0,302.43 L496.5,302.37 L497.0,302.98 L497.5,303.92 L498.0,304.45 L498.5,304.61 L499.0,304.67 L499.5,305.37 L500.0,306.03 L500.5,305.99 L501.0,305.62 L501.5,305.65 L502.0,306.67 L502.5,307.55 L503.0,307.26 L503.5,307.57 L504.0,308.29 L504.5,308.52 L505.0,309.50 L505.5,309.85 L506.0,309.13 L506.5,309.11 L507.0,309.46 L507.5,309.28 L508.0,308.95 L508.5,309.19 L509.0,309.59 L509.5,309.35 L510.0,308.81 L510.5,309.64 L511.0,310.89 L511.5,311.00 L512.0,311.07 L512.5,310.72 L513.0,310.44 L513.5,310.75 L514.0,310.48 L514.5,310.84 L515.0,312.04 L515.5,312.70 L516.0,312.65 L516.5,312.35 L517.0,312.04 L517.5,311.82 L518.0,312.10 L518.5,312.52 L519.0,312.56 L519.5,312.86 L520.0,313.07 L520.5,312.93 L521.0,313.12 L521.5,313.33 L522.0,313.12 L522.5,313.24 L523.0,313.83 L523.5,314.15 L524.0,314.87 L524.5,315.28 L525.0,314.43 L525.5,314.11 L526.0,314.52 L526.5,314.31 L527.0,314.22 L527.5,314.39 L528.0,314.48 L528.5,314.95 L529.0,314.66 L529.5,313.99 L530.0,314.16 L530.5,314.67 L531.0,315.50 L531.5,316.24 L532.0,315.90 L532.5,315.13 L533.0,315.24 L533.5,315.57 L534.0,315.92 L534.5,316.65 L535.0,317.02 L535.5,316.81 L536.0,316.16 L536.5,316.04 L537.0,316.54 L537.5,316.28 L538.0,315.96 L538.5,316.76 L539.0,317.66 L539.5,317.45 L540.0,316.79" fill="none" stroke="#000" stroke-width="2.35" stroke-linejoin="round"/>
<path d="M329.0,297.91 L329.5,298.43 L330.0,298.91 L330.5,298.71 L331.0,299.37 L331.5,301.26 L332.0,302.63 L332.5,302.27 L333.0,301.61 L333.5,302.02 L334.0,301.87 L334.5,301.12 L335.0,301.49 L335.5,302.57 L336.0,303.45 L336.5,303.40 L337.0,303.05 L337.5,303.54 L338.0,304.59 L338.5,305.75 L339.0,305.79 L339.5,304.98 L340.0,305.00 L340.5,305.29 L341.0,305.48 L341.5,305.47 L342.0,305.50 L342.5,306.54 L343.0,306.43 L343.5,305.45 L344.0,305.73 L344.5,306.78 L345.0,307.99 L345.5,307.75 L346.0,306.59 L346.5,306.93 L347.0,308.41 L347.5,309.34 L348.0,309.01 L348.5,308.76 L349.0,309.42 L349.5,309.08 L350.0,307.74 L350.5,307.62 L351.0,307.98 L351.5,306.58 L352.0,305.86 L352.5,307.17 L353.0,307.45 L353.5,306.98 L354.0,307.36 L354.5,307.85 L355.0,307.67 L355.5,306.89 L356.0,306.98 L356.5,309.19 L357.0,309.94 L357.5,308.55 L358.0,308.10 L358.5,308.98 L359.0,309.61 L359.5,308.09 L360.0,306.41 L360.5,307.28 L361.0,310.00 L361.5,311.26 L362.0,310.27 L362.5,310.23 L363.0,311.03 L363.5,310.90 L364.0,310.38 L364.5,309.44 L365.0,308.33 L365.5,308.43 L366.0,308.44 L366.5,307.90 L367.0,308.70 L367.5,309.98 L368.0,310.40 L368.5,310.28 L369.0,310.16 L369.5,310.65 L370.0,311.33 L370.5,311.12 L371.0,310.40 L371.5,310.69 L372.0,310.47 L372.5,309.18 L373.0,309.52 L373.5,309.97 L374.0,309.87 L374.5,310.60 L375.0,311.44 L375.5,311.16 L376.0,310.83 L376.5,311.00 L377.0,310.40 L377.5,310.47 L378.0,310.79 L378.5,311.02 L379.0,311.87 L379.5,311.94 L380.0,310.88 L380.5,309.21 L381.0,309.09 L381.5,310.16 L382.0,309.74 L382.5,309.71 L383.0,310.28 L383.5,310.32 L384.0,310.60 L384.5,310.55 L385.0,310.35 L385.5,310.25 L386.0,309.79 L386.5,309.89 L387.0,310.38 L387.5,310.69 L388.0,311.90 L388.5,312.37 L389.0,310.57 L389.5,309.76 L390.0,310.09 L390.5,308.98 L391.0,309.02 L391.5,309.78 L392.0,308.95 L392.5,308.29 L393.0,308.20 L393.5,308.75 L394.0,309.24 L394.5,309.20 L395.0,308.92 L395.5,307.09 L396.0,305.31 L396.5,306.14 L397.0,307.14 L397.5,306.67 L398.0,306.26 L398.5,306.27 L399.0,305.39 L399.5,304.40 L400.0,304.78 L400.5,304.54 L401.0,302.90 L401.5,301.80 L402.0,301.89 L402.5,301.30 L403.0,299.78 L403.5,299.09 L404.0,298.86 L404.5,298.17 L405.0,298.18 L405.5,298.82 L406.0,298.44 L406.5,297.39 L407.0,295.10 L407.5,293.30 L408.0,294.00 L408.5,294.55 L409.0,293.21 L409.5,290.65 L410.0,289.07 L410.5,289.10 L411.0,288.35 L411.5,286.97 L412.0,286.78 L412.5,286.15 L413.0,285.69 L413.5,286.04 L414.0,284.47 L414.5,282.30 L415.0,281.62 L415.5,280.91 L416.0,279.15 L416.5,277.55 L417.0,276.33 L417.5,275.33 L418.0,275.68 L418.5,276.68 L419.0,277.12 L419.5,276.55 L420.0,275.27 L420.5,275.21 L421.0,274.43 L421.5,271.06 L422.0,269.29 L422.5,269.79 L423.0,269.93 L423.5,269.50 L424.0,268.70 L424.5,268.73 L425.0,269.36 L425.5,269.42 L426.0,269.43 L426.5,269.35 L427.0,268.79 L427.5,268.49 L428.0,268.57 L428.5,268.88 L429.0,269.71 L429.5,270.50 L430.0,270.21 L430.5,269.47 L431.0,269.87 L431.5,271.77 L432.0,273.59 L432.5,274.11 L433.0,274.14 L433.5,274.72 L434.0,276.37 L434.5,277.38 L435.0,277.02 L435.5,277.93 L436.0,279.61 L436.5,279.36 L437.0,279.49 L437.5,281.43 L438.0,282.35 L438.5,281.79 L439.0,282.83 L439.5,284.91 L440.0,285.57 L440.5,286.69 L441.0,288.60 L441.5,289.53 L442.0,290.35 L442.5,291.81 L443.0,292.84 L443.5,293.01 L444.0,292.50 L444.5,292.88 L445.0,294.46 L445.5,296.58 L446.0,298.60 L446.5,299.30 L447.0,300.39 L447.5,302.60 L448.0,303.64 L448.5,302.94 L449.0,302.03 L449.5,302.34 L450.0,303.44 L450.5,303.85 L451.0,304.37 L451.5,304.79 L452.0,304.57 L452.5,305.36 L453.0,305.61 L453.5,304.51 L454.0,304.45 L454.5,305.17 L455.0,305.02 L455.5,304.75 L456.0,305.54 L456.5,305.91 L457.0,305.27 L457.5,305.21 L458.0,305.67 L458.5,305.96 L459.0,306.26 L459.5,306.23 L460.0,306.44 L460.5,306.76 L461.0,306.08 L461.5,306.57 L462.0,308.06 L462.5,308.54 L463.0,309.13 L463.5,309.16 L464.0,308.05 L464.5,307.54 L465.0,308.51 L465.5,310.07 L466.0,310.60 L466.5,311.22 L467.0,312.28 L467.5,312.10 L468.0,312.10 L468.5,313.48 L469.0,314.43 L469.5,315.57 L470.0,317.20 L470.5,317.23 L471.0,317.38 L471.5,318.33 L472.0,318.54 L472.5,318.99 L473.0,319.50 L473.5,320.67 L474.0,322.32 L474.5,322.00 L475.0,321.26 L475.5,321.82 L476.0,322.55 L476.5,322.89 L477.0,324.05 L477.5,325.67 L478.0,326.71 L478.5,327.38 L479.0,328.22 L479.5,329.16 L480.0,329.18 L480.5,328.45 L481.0,328.57 L481.5,330.35 L482.0,332.58 L482.5,334.05 L483.0,334.32 L483.5,334.00 L484.0,334.47 L484.5,336.26 L485.0,337.64 L485.5,337.58 L486.0,337.86 L486.5,338.70 L487.0,339.99 L487.5,342.23 L488.0,342.65 L488.5,341.04 L489.0,340.45 L489.5,340.92 L490.0,341.73 L490.5,342.40 L491.0,342.94 L491.5,343.67 L492.0,343.78 L492.5,343.84 L493.0,344.60 L493.5,345.03 L494.0,345.08 L494.5,344.43 L495.0,343.39 L495.5,343.27 L496.0,343.96 L496.5,345.32 L497.0,346.90 L497.5,347.26 L498.0,346.77 L498.5,347.29 L499.0,347.84 L499.5,347.23 L500.0,347.07 L500.5,347.24 L501.0,347.72 L501.5,348.97 L502.0,349.10 L502.5,348.19 L503.0,348.38 L503.5,349.53 L504.0,349.66 L504.5,349.55 L505.0,349.75 L505.5,350.26 L506.0,351.28 L506.5,350.89 L507.0,350.00 L507.5,350.23 L508.0,350.39 L508.5,350.49 L509.0,351.05 L509.5,351.62 L510.0,352.35 L510.5,352.45 L511.0,351.71 L511.5,351.41 L512.0,351.81 L512.5,352.21 L513.0,352.21 L513.5,352.26 L514.0,352.47 L514.5,352.50 L515.0,352.71 L515.5,353.49 L516.0,352.75 L516.5,350.81 L517.0,352.02 L517.5,354.17 L518.0,354.04 L518.5,354.11 L519.0,354.55 L519.5,354.88 L520.0,356.03 L520.5,356.23 L521.0,354.62 L521.5,354.26 L522.0,355.10 L522.5,355.04 L523.0,353.87 L523.5,352.89 L524.0,354.09 L524.5,355.84 L525.0,355.48 L525.5,354.07 L526.0,353.87 L526.5,355.02 L527.0,356.19 L527.5,356.89 L528.0,357.32 L528.5,356.70 L529.0,356.74 L529.5,357.53 L530.0,356.62 L530.5,355.92 L531.0,356.99 L531.5,358.16 L532.0,357.94 L532.5,357.02 L533.0,356.87 L533.5,357.24 L534.0,356.99 L534.5,356.18 L535.0,356.44 L535.5,358.04 L536.0,358.72 L536.5,357.71 L537.0,357.30 L537.5,357.65 L538.0,358.14 L538.5,358.97 L539.0,358.25 L539.5,357.38 L540.0,358.44" fill="none" stroke="#000" stroke-width="2.35" stroke-linejoin="round"/>
<path d="M329.0,336.13 L329.5,336.56 L330.0,335.93 L330.5,335.93 L331.0,335.05 L331.5,334.36 L332.0,335.24 L332.5,335.39 L333.0,335.12 L333.5,335.89 L334.0,335.73 L334.5,334.54 L335.0,334.79 L335.5,335.69 L336.0,336.09 L336.5,336.92 L337.0,338.92 L337.5,339.77 L338.0,338.82 L338.5,339.09 L339.0,339.06 L339.5,339.15 L340.0,341.78 L340.5,343.49 L341.0,341.35 L341.5,339.04 L342.0,339.23 L342.5,338.81 L343.0,338.47 L343.5,339.70 L344.0,341.65 L344.5,343.25 L345.0,341.99 L345.5,341.50 L346.0,343.24 L346.5,342.34 L347.0,339.75 L347.5,339.29 L348.0,341.27 L348.5,343.32 L349.0,344.53 L349.5,344.75 L350.0,343.66 L350.5,343.21 L351.0,344.46 L351.5,344.45 L352.0,342.79 L352.5,342.11 L353.0,341.98 L353.5,342.45 L354.0,343.41 L354.5,343.22 L355.0,343.20 L355.5,344.68 L356.0,346.38 L356.5,346.15 L357.0,343.44 L357.5,342.20 L358.0,344.11 L358.5,345.26 L359.0,346.01 L359.5,346.95 L360.0,346.06 L360.5,345.49 L361.0,344.81 L361.5,343.43 L362.0,343.49 L362.5,343.42 L363.0,343.30 L363.5,344.42 L364.0,346.05 L364.5,346.91 L365.0,346.50 L365.5,347.63 L366.0,349.42 L366.5,348.81 L367.0,346.94 L367.5,345.40 L368.0,345.05 L368.5,344.87 L369.0,344.91 L369.5,346.52 L370.0,347.18 L370.5,346.35 L371.0,345.83 L371.5,346.44 L372.0,348.69 L372.5,348.36 L373.0,345.63 L373.5,345.22 L374.0,346.34 L374.5,346.81 L375.0,345.99 L375.5,346.04 L376.0,346.10 L376.5,346.32 L377.0,347.82 L377.5,347.35 L378.0,346.94 L378.5,347.04 L379.0,347.21 L379.5,349.54 L380.0,350.01 L380.5,348.94 L381.0,349.01 L381.5,348.78 L382.0,348.89 L382.5,350.50 L383.0,350.96 L383.5,348.43 L384.0,346.94 L384.5,347.36 L385.0,348.82 L385.5,349.80 L386.0,349.41 L386.5,348.06 L387.0,346.96 L387.5,349.28 L388.0,351.25 L388.5,350.25 L389.0,347.69 L389.5,345.78 L390.0,346.06 L390.5,346.61 L391.0,345.86 L391.5,345.98 L392.0,348.84 L392.5,349.88 L393.0,348.07 L393.5,347.34 L394.0,348.41 L394.5,347.77 L395.0,344.52 L395.5,344.35 L396.0,346.24 L396.5,345.71 L397.0,344.82 L397.5,343.95 L398.0,342.61 L398.5,343.79 L399.0,345.20 L399.5,343.40 L400.0,342.14 L400.5,342.75 L401.0,343.19 L401.5,342.16 L402.0,340.50 L402.5,341.21 L403.0,341.06 L403.5,339.11 L404.0,338.76 L404.5,337.66 L405.0,335.52 L405.5,335.39 L406.0,338.22 L406.5,338.91 L407.0,335.92 L407.5,334.98 L408.0,334.45 L408.5,333.41 L409.0,333.35 L409.5,332.52 L410.0,331.80 L410.5,330.66 L411.0,330.24 L411.5,331.28 L412.0,330.20 L412.5,328.05 L413.0,326.34 L413.5,325.05 L414.0,324.57 L414.5,325.22 L415.0,326.86 L415.5,326.28 L416.0,323.15 L416.5,321.44 L417.0,321.01 L417.5,319.75 L418.0,319.91 L418.5,322.18 L419.0,322.31 L419.5,319.36 L420.0,317.65 L420.5,317.64 L421.0,317.24 L421.5,317.24 L422.0,316.55 L422.5,314.58 L423.0,314.30 L423.5,315.80 L424.0,316.05 L424.5,314.04 L425.0,312.17 L425.5,312.94 L426.0,314.43 L426.5,314.38 L427.0,314.40 L427.5,314.49 L428.0,314.89 L428.5,316.56 L429.0,316.54 L429.5,314.70 L430.0,314.77 L430.5,316.40 L431.0,318.14 L431.5,320.47 L432.0,321.09 L432.5,319.84 L433.0,318.81 L433.5,318.43 L434.0,318.65 L434.5,319.28 L435.0,321.51 L435.5,323.05 L436.0,322.71 L436.5,323.76 L437.0,324.91 L437.5,324.74 L438.0,327.13 L438.5,330.10 L439.0,329.40 L439.5,329.77 L440.0,331.80 L440.5,331.19 L441.0,330.82 L441.5,331.92 L442.0,332.63 L442.5,334.18 L443.0,334.91 L443.5,334.26 L444.0,334.51 L444.5,334.96 L445.0,336.14 L445.5,338.96 L446.0,340.78 L446.5,340.44 L447.0,340.56 L447.5,342.08 L448.0,342.27 L448.5,341.69 L449.0,342.00 L449.5,341.63 L450.0,342.36 L450.5,342.92 L451.0,341.98 L451.5,342.20 L452.0,341.42 L452.5,340.72 L453.0,340.92 L453.5,341.22 L454.0,343.32 L454.5,344.05 L455.0,342.40 L455.5,341.58 L456.0,341.15 L456.5,340.79 L457.0,342.39 L457.5,343.69 L458.0,342.49 L458.5,340.91 L459.0,341.14 L459.5,341.37 L460.0,341.02 L460.5,342.69 L461.0,342.94 L461.5,341.89 L462.0,342.76 L462.5,343.54 L463.0,344.34 L463.5,344.54 L464.0,344.22 L464.5,344.37 L465.0,344.76 L465.5,345.74 L466.0,345.97 L466.5,346.17 L467.0,346.96 L467.5,346.35 L468.0,346.52 L468.5,349.39 L469.0,351.41 L469.5,352.20 L470.0,353.42 L470.5,354.47 L471.0,355.11 L471.5,354.86 L472.0,355.12 L472.5,356.67 L473.0,357.88 L473.5,358.76 L474.0,359.06 L474.5,359.25 L475.0,360.07 L475.5,361.43 L476.0,362.26 L476.5,360.92 L477.0,360.56 L477.5,362.48 L478.0,363.43 L478.5,364.12 L479.0,366.10 L479.5,367.42 L480.0,367.87 L480.5,367.14 L481.0,366.05 L481.5,366.66 L482.0,367.83 L482.5,369.28 L483.0,371.21 L483.5,372.68 L484.0,371.75 L484.5,370.78 L485.0,372.77 L485.5,374.35 L486.0,374.40 L486.5,374.15 L487.0,373.92 L487.5,374.50 L488.0,376.20 L488.5,377.84 L489.0,378.12 L489.5,377.71 L490.0,378.89 L490.5,381.53 L491.0,382.53 L491.5,382.28 L492.0,383.49 L492.5,385.62 L493.0,386.06 L493.5,384.27 L494.0,383.33 L494.5,383.93 L495.0,383.45 L495.5,383.09 L496.0,383.63 L496.5,382.62 L497.0,382.32 L497.5,384.77 L498.0,386.01 L498.5,386.50 L499.0,387.53 L499.5,386.38 L500.0,386.61 L500.5,388.49 L501.0,386.14 L501.5,384.19 L502.0,385.96 L502.5,386.45 L503.0,386.35 L503.5,386.40 L504.0,385.79 L504.5,387.01 L505.0,389.65 L505.5,390.10 L506.0,388.41 L506.5,387.00 L507.0,386.89 L507.5,387.89 L508.0,387.86 L508.5,387.98 L509.0,389.06 L509.5,389.16 L510.0,389.41 L510.5,390.15 L511.0,390.14 L511.5,389.64 L512.0,388.83 L512.5,388.77 L513.0,389.91 L513.5,389.83 L514.0,389.40 L514.5,389.95 L515.0,390.99 L515.5,392.25 L516.0,392.95 L516.5,393.95 L517.0,395.89 L517.5,396.09 L518.0,393.68 L518.5,391.97 L519.0,391.71 L519.5,391.15 L520.0,390.97 L520.5,392.54 L521.0,393.73 L521.5,393.25 L522.0,392.50 L522.5,391.72 L523.0,391.02 L523.5,391.47 L524.0,392.92 L524.5,393.12 L525.0,392.66 L525.5,394.45 L526.0,396.22 L526.5,395.70 L527.0,394.72 L527.5,393.80 L528.0,392.88 L528.5,393.10 L529.0,394.10 L529.5,393.63 L530.0,392.43 L530.5,393.00 L531.0,394.37 L531.5,395.83 L532.0,396.10 L532.5,394.79 L533.0,395.36 L533.5,396.88 L534.0,396.81 L534.5,395.48 L535.0,393.87 L535.5,392.73 L536.0,393.01 L536.5,394.27 L537.0,395.80 L537.5,397.43 L538.0,397.64 L538.5,395.64 L539.0,393.84 L539.5,395.79 L540.0,397.95" fill="none" stroke="#000" stroke-width="2.35" stroke-linejoin="round"/>
<path d="M329.0,367.34 L329.5,368.46 L330.0,368.03 L330.5,368.04 L331.0,370.54 L331.5,371.62 L332.0,370.50 L332.5,370.50 L333.0,371.11 L333.5,371.05 L334.0,372.41 L334.5,373.99 L335.0,373.58 L335.5,372.85 L336.0,372.92 L336.5,374.17 L337.0,376.43 L337.5,377.19 L338.0,375.86 L338.5,374.71 L339.0,373.94 L339.5,373.60 L340.0,373.16 L340.5,372.43 L341.0,373.98 L341.5,376.93 L342.0,376.91 L342.5,374.81 L343.0,375.84 L343.5,378.04 L344.0,377.66 L344.5,377.32 L345.0,376.69 L345.5,375.40 L346.0,377.40 L346.5,379.45 L347.0,379.42 L347.5,380.22 L348.0,380.12 L348.5,379.50 L349.0,379.70 L349.5,379.66 L350.0,378.19 L350.5,378.07 L351.0,380.31 L351.5,380.95 L352.0,381.05 L352.5,381.73 L353.0,381.12 L353.5,378.80 L354.0,377.72 L354.5,379.02 L355.0,379.83 L355.5,378.71 L356.0,378.87 L356.5,380.96 L357.0,382.04 L357.5,382.40 L358.0,382.30 L358.5,381.63 L359.0,380.10 L359.5,379.75 L360.0,380.74 L360.5,380.37 L361.0,380.47 L361.5,381.45 L362.0,380.96 L362.5,379.74 L363.0,379.83 L363.5,381.13 L364.0,380.98 L364.5,379.51 L365.0,378.74 L365.5,379.70 L366.0,383.03 L366.5,383.69 L367.0,380.31 L367.5,380.84 L368.0,383.45 L368.5,382.91 L369.0,382.15 L369.5,381.31 L370.0,381.64 L370.5,383.72 L371.0,384.76 L371.5,384.95 L372.0,385.07 L372.5,384.92 L373.0,383.47 L373.5,383.61 L374.0,385.87 L374.5,385.21 L375.0,383.72 L375.5,384.11 L376.0,384.49 L376.5,384.66 L377.0,385.12 L377.5,386.50 L378.0,386.28 L378.5,384.99 L379.0,386.77 L379.5,388.04 L380.0,388.19 L380.5,388.81 L381.0,387.84 L381.5,387.03 L382.0,386.28 L382.5,385.84 L383.0,386.82 L383.5,388.21 L384.0,388.64 L384.5,387.95 L385.0,387.31 L385.5,386.04 L386.0,384.15 L386.5,382.66 L387.0,382.95 L387.5,385.21 L388.0,385.84 L388.5,384.66 L389.0,384.19 L389.5,384.17 L390.0,385.05 L390.5,385.05 L391.0,384.87 L391.5,384.91 L392.0,382.73 L392.5,382.66 L393.0,384.94 L393.5,384.92 L394.0,383.91 L394.5,384.24 L395.0,385.00 L395.5,384.71 L396.0,383.35 L396.5,381.49 L397.0,381.58 L397.5,384.11 L398.0,383.51 L398.5,379.92 L399.0,378.09 L399.5,377.78 L400.0,378.29 L400.5,379.04 L401.0,378.90 L401.5,378.94 L402.0,378.52 L402.5,376.43 L403.0,375.23 L403.5,375.40 L404.0,375.66 L404.5,377.68 L405.0,379.50 L405.5,378.53 L406.0,378.28 L406.5,378.87 L407.0,378.60 L407.5,378.53 L408.0,377.95 L408.5,376.42 L409.0,375.47 L409.5,376.05 L410.0,378.24 L410.5,380.23 L411.0,380.18 L411.5,379.59 L412.0,378.45 L412.5,376.27 L413.0,375.21 L413.5,375.71 L414.0,376.38 L414.5,376.89 L415.0,376.69 L415.5,374.28 L416.0,372.29 L416.5,372.74 L417.0,371.78 L417.5,371.28 L418.0,374.03 L418.5,374.85 L419.0,372.67 L419.5,371.33 L420.0,371.52 L420.5,371.80 L421.0,370.27 L421.5,368.77 L422.0,370.01 L422.5,371.57 L423.0,371.35 L423.5,370.62 L424.0,370.14 L424.5,369.51 L425.0,369.06 L425.5,368.17 L426.0,368.77 L426.5,371.47 L427.0,371.74 L427.5,370.27 L428.0,370.16 L428.5,369.72 L429.0,368.99 L429.5,370.10 L430.0,371.12 L430.5,371.57 L431.0,372.23 L431.5,370.96 L432.0,370.23 L432.5,372.64 L433.0,374.25 L433.5,373.24 L434.0,371.70 L434.5,371.94 L435.0,372.73 L435.5,372.42 L436.0,373.66 L436.5,375.74 L437.0,376.80 L437.5,376.76 L438.0,375.02 L438.5,373.88 L439.0,375.06 L439.5,377.42 L440.0,378.69 L440.5,377.81 L441.0,378.64 L441.5,381.49 L442.0,381.34 L442.5,380.10 L443.0,381.93 L443.5,384.08 L444.0,383.78 L444.5,382.82 L445.0,382.39 L445.5,382.69 L446.0,383.78 L446.5,384.98 L447.0,385.91 L447.5,386.06 L448.0,385.38 L448.5,385.15 L449.0,386.05 L449.5,386.82 L450.0,387.28 L450.5,388.01 L451.0,388.48 L451.5,387.75 L452.0,386.15 L452.5,385.85 L453.0,387.08 L453.5,388.48 L454.0,389.31 L454.5,389.54 L455.0,388.66 L455.5,386.67 L456.0,386.04 L456.5,387.72 L457.0,390.50 L457.5,391.38 L458.0,388.47 L458.5,386.00 L459.0,387.38 L459.5,389.25 L460.0,388.92 L460.5,387.81 L461.0,387.67 L461.5,388.64 L462.0,389.05 L462.5,387.87 L463.0,387.62 L463.5,389.32 L464.0,389.52 L464.5,388.64 L465.0,389.19 L465.5,389.84 L466.0,389.71 L466.5,389.95 L467.0,390.23 L467.5,390.18 L468.0,390.67 L468.5,393.29 L469.0,396.01 L469.5,394.75 L470.0,393.76 L470.5,396.34 L471.0,396.70 L471.5,394.93 L472.0,396.10 L472.5,397.14 L473.0,396.65 L473.5,396.96 L474.0,398.95 L474.5,401.12 L475.0,401.88 L475.5,402.57 L476.0,402.14 L476.5,401.76 L477.0,402.64 L477.5,403.39 L478.0,404.24 L478.5,405.59 L479.0,405.98 L479.5,404.10 L480.0,403.31 L480.5,404.81 L481.0,405.88 L481.5,406.63 L482.0,407.39 L482.5,408.18 L483.0,410.03 L483.5,411.44 L484.0,411.43 L484.5,412.15 L485.0,411.77 L485.5,410.11 L486.0,410.16 L486.5,410.18 L487.0,411.11 L487.5,413.25 L488.0,414.07 L488.5,415.79 L489.0,417.36 L489.5,416.52 L490.0,417.31 L490.5,418.46 L491.0,417.66 L491.5,417.65 L492.0,418.52 L492.5,420.63 L493.0,422.53 L493.5,421.48 L494.0,418.30 L494.5,416.60 L495.0,418.73 L495.5,420.37 L496.0,420.50 L496.5,420.90 L497.0,420.28 L497.5,420.71 L498.0,421.57 L498.5,420.86 L499.0,420.16 L499.5,421.82 L500.0,424.49 L500.5,424.94 L501.0,424.45 L501.5,425.27 L502.0,427.13 L502.5,426.27 L503.0,424.42 L503.5,425.82 L504.0,426.85 L504.5,425.92 L505.0,425.81 L505.5,426.84 L506.0,428.12 L506.5,427.86 L507.0,426.27 L507.5,426.66 L508.0,426.94 L508.5,426.57 L509.0,428.01 L509.5,428.92 L510.0,427.44 L510.5,425.27 L511.0,424.73 L511.5,426.06 L512.0,427.22 L512.5,426.81 L513.0,427.15 L513.5,428.89 L514.0,428.60 L514.5,426.52 L515.0,427.38 L515.5,429.60 L516.0,429.13 L516.5,429.12 L517.0,430.50 L517.5,431.22 L518.0,431.28 L518.5,431.34 L519.0,430.95 L519.5,429.53 L520.0,429.40 L520.5,430.42 L521.0,429.75 L521.5,428.62 L522.0,429.15 L522.5,430.12 L523.0,430.91 L523.5,430.60 L524.0,427.81 L524.5,427.08 L525.0,430.57 L525.5,432.09 L526.0,431.03 L526.5,431.33 L527.0,431.12 L527.5,428.87 L528.0,428.05 L528.5,428.22 L529.0,428.18 L529.5,429.63 L530.0,429.63 L530.5,429.75 L531.0,431.40 L531.5,431.13 L532.0,431.36 L532.5,432.11 L533.0,431.12 L533.5,430.30 L534.0,431.11 L534.5,431.21 L535.0,430.85 L535.5,431.27 L536.0,430.18 L536.5,430.99 L537.0,433.84 L537.5,434.31 L538.0,433.31 L538.5,432.45 L539.0,433.36 L539.5,433.30 L540.0,431.98" fill="none" stroke="#000" stroke-width="2.35" stroke-linejoin="round"/>
<polygon points="123.50,54.80 120.60,64.40 126.40,64.40" fill="#ff0000"/><rect x="122.60" y="63.90" width="1.8" height="15.30" fill="#ff0000"/>
<polygon points="123.50,93.00 120.60,102.60 126.40,102.60" fill="#ff0000"/><rect x="122.60" y="102.10" width="1.8" height="15.30" fill="#ff0000"/>
<polygon points="123.50,137.40 120.60,147.00 126.40,147.00" fill="#ff0000"/><rect x="122.60" y="146.50" width="1.8" height="15.30" fill="#ff0000"/>
<polygon points="123.50,184.80 120.60,194.40 126.40,194.40" fill="#ff0000"/><rect x="122.60" y="193.90" width="1.8" height="15.30" fill="#ff0000"/>
<polygon points="123.50,233.10 120.60,242.70 126.40,242.70" fill="#ff0000"/><rect x="122.60" y="242.20" width="1.8" height="15.30" fill="#ff0000"/>
<polygon points="123.50,281.00 120.60,290.60 126.40,290.60" fill="#ff0000"/><rect x="122.60" y="290.10" width="1.8" height="15.30" fill="#ff0000"/>
<polygon points="123.50,338.30 120.60,347.90 126.40,347.90" fill="#ff0000"/><rect x="122.60" y="347.40" width="1.8" height="15.30" fill="#ff0000"/>
<polygon points="160.40,111.00 157.50,120.60 163.30,120.60" fill="#ff0000"/><rect x="159.50" y="120.10" width="1.8" height="15.30" fill="#ff0000"/>
<polygon points="160.40,144.00 157.50,153.60 163.30,153.60" fill="#ff0000"/><rect x="159.50" y="153.10" width="1.8" height="15.30" fill="#ff0000"/>
<polygon points="160.50,179.00 157.60,188.60 163.40,188.60" fill="#ff0000"/><rect x="159.60" y="188.10" width="1.8" height="15.30" fill="#ff0000"/>
<polygon points="160.60,224.50 157.70,234.10 163.50,234.10" fill="#ff0000"/><rect x="159.70" y="233.60" width="1.8" height="15.30" fill="#ff0000"/>
<polygon points="160.90,263.20 158.00,272.80 163.80,272.80" fill="#ff0000"/><rect x="160.00" y="272.30" width="1.8" height="15.30" fill="#ff0000"/>
<polygon points="161.60,308.30 158.70,317.90 164.50,317.90" fill="#ff0000"/><rect x="160.70" y="317.40" width="1.8" height="15.30" fill="#ff0000"/>
<polygon points="161.90,352.30 159.00,361.90 164.80,361.90" fill="#ff0000"/><rect x="161.00" y="361.40" width="1.8" height="15.30" fill="#ff0000"/>
<polygon points="173.20,190.00 170.30,199.60 176.10,199.60" fill="#000000"/><rect x="172.30" y="199.10" width="1.8" height="15.30" fill="#000000"/>
<polygon points="173.20,235.00 170.30,244.60 176.10,244.60" fill="#000000"/><rect x="172.30" y="244.10" width="1.8" height="15.30" fill="#000000"/>
<polygon points="173.20,274.00 170.30,283.60 176.10,283.60" fill="#000000"/><rect x="172.30" y="283.10" width="1.8" height="15.30" fill="#000000"/>
<polygon points="173.20,317.00 170.30,326.60 176.10,326.60" fill="#000000"/><rect x="172.30" y="326.10" width="1.8" height="15.30" fill="#000000"/>
<polygon points="173.20,365.00 170.30,374.60 176.10,374.60" fill="#000000"/><rect x="172.30" y="374.10" width="1.8" height="15.30" fill="#000000"/>
<polygon points="173.20,416.00 170.30,425.60 176.10,425.60" fill="#000000"/><rect x="172.30" y="425.10" width="1.8" height="15.30" fill="#000000"/>
<polygon points="146.80,211.00 143.90,220.60 149.70,220.60" fill="#008000"/><rect x="145.90" y="220.10" width="1.8" height="15.30" fill="#008000"/>
<polygon points="146.80,251.00 143.90,260.60 149.70,260.60" fill="#008000"/><rect x="145.90" y="260.10" width="1.8" height="15.30" fill="#008000"/>
<polygon points="146.80,295.00 143.90,304.60 149.70,304.60" fill="#008000"/><rect x="145.90" y="304.10" width="1.8" height="15.30" fill="#008000"/>
<polygon points="146.80,346.00 143.90,355.60 149.70,355.60" fill="#008000"/><rect x="145.90" y="355.10" width="1.8" height="15.30" fill="#008000"/>
<polygon points="187.00,238.00 184.10,247.60 189.90,247.60" fill="#008000"/><rect x="186.10" y="247.10" width="1.8" height="15.30" fill="#008000"/>
<polygon points="187.60,277.00 184.70,286.60 190.50,286.60" fill="#008000"/><rect x="186.70" y="286.10" width="1.8" height="15.30" fill="#008000"/>
<polygon points="189.10,319.50 186.20,329.10 192.00,329.10" fill="#008000"/><rect x="188.20" y="328.60" width="1.8" height="15.30" fill="#008000"/>
<polygon points="189.80,368.00 186.90,377.60 192.70,377.60" fill="#008000"/><rect x="188.90" y="377.10" width="1.8" height="15.30" fill="#008000"/>
<polygon points="191.30,416.50 188.40,426.10 194.20,426.10" fill="#008000"/><rect x="190.40" y="425.60" width="1.8" height="15.30" fill="#008000"/>
<polygon points="213.80,223.40 210.90,232.40 216.70,232.40" fill="#000000"/><rect x="212.90" y="231.90" width="1.8" height="8.80" fill="#000000"/>
<polygon points="213.80,269.00 210.90,278.00 216.70,278.00" fill="#000000"/><rect x="212.90" y="277.50" width="1.8" height="8.80" fill="#000000"/>
<polygon points="213.80,307.00 210.90,316.00 216.70,316.00" fill="#000000"/><rect x="212.90" y="315.50" width="1.8" height="8.80" fill="#000000"/>
<polygon points="213.80,354.00 210.90,363.00 216.70,363.00" fill="#000000"/><rect x="212.90" y="362.50" width="1.8" height="8.80" fill="#000000"/>
<polygon points="213.80,400.00 210.90,409.00 216.70,409.00" fill="#000000"/><rect x="212.90" y="408.50" width="1.8" height="8.80" fill="#000000"/>
<polygon points="230.80,271.40 227.90,281.00 233.70,281.00" fill="#008000"/><rect x="229.90" y="280.50" width="1.8" height="15.30" fill="#008000"/>
<polygon points="231.70,314.00 228.80,323.60 234.60,323.60" fill="#008000"/><rect x="230.80" y="323.10" width="1.8" height="15.30" fill="#008000"/>
<polygon points="232.60,357.00 229.70,366.60 235.50,366.60" fill="#008000"/><rect x="231.70" y="366.10" width="1.8" height="15.30" fill="#008000"/>
<polygon points="233.50,399.00 230.60,408.60 236.40,408.60" fill="#008000"/><rect x="232.60" y="408.10" width="1.8" height="15.30" fill="#008000"/>
<polygon points="429.40,54.00 426.50,63.60 432.30,63.60" fill="#ff0000"/><rect x="428.50" y="63.10" width="1.8" height="15.30" fill="#ff0000"/>
<polygon points="429.40,91.00 426.50,100.60 432.30,100.60" fill="#ff0000"/><rect x="428.50" y="100.10" width="1.8" height="15.30" fill="#ff0000"/>
<polygon points="429.40,132.00 426.50,141.60 432.30,141.60" fill="#ff0000"/><rect x="428.50" y="141.10" width="1.8" height="15.30" fill="#ff0000"/>
<polygon points="427.60,184.00 424.70,193.60 430.50,193.60" fill="#ff0000"/><rect x="426.70" y="193.10" width="1.8" height="15.30" fill="#ff0000"/>
<polygon points="426.60,232.00 423.70,241.60 429.50,241.60" fill="#ff0000"/><rect x="425.70" y="241.10" width="1.8" height="15.30" fill="#ff0000"/>
<polygon points="426.60,278.00 423.70,287.60 429.50,287.60" fill="#ff0000"/><rect x="425.70" y="287.10" width="1.8" height="15.30" fill="#ff0000"/>
<polygon points="426.60,323.00 423.70,332.60 429.50,332.60" fill="#ff0000"/><rect x="425.70" y="332.10" width="1.8" height="15.30" fill="#ff0000"/>
<polygon points="426.60,377.00 423.70,386.60 429.50,386.60" fill="#ff0000"/><rect x="425.70" y="386.10" width="1.8" height="15.30" fill="#ff0000"/>
<polygon points="467.00,104.00 464.10,113.60 469.90,113.60" fill="#ff0000"/><rect x="466.10" y="113.10" width="1.8" height="15.30" fill="#ff0000"/>
<polygon points="468.00,141.00 465.10,150.60 470.90,150.60" fill="#ff0000"/><rect x="467.10" y="150.10" width="1.8" height="15.30" fill="#ff0000"/>
<polygon points="468.00,184.00 465.10,193.60 470.90,193.60" fill="#ff0000"/><rect x="467.10" y="193.10" width="1.8" height="15.30" fill="#ff0000"/>
<polygon points="466.00,233.00 463.10,242.60 468.90,242.60" fill="#ff0000"/><rect x="465.10" y="242.10" width="1.8" height="15.30" fill="#ff0000"/>
<polygon points="466.00,276.00 463.10,285.60 468.90,285.60" fill="#ff0000"/><rect x="465.10" y="285.10" width="1.8" height="15.30" fill="#ff0000"/>
<polygon points="464.80,316.00 461.90,325.60 467.70,325.60" fill="#ff0000"/><rect x="463.90" y="325.10" width="1.8" height="15.30" fill="#ff0000"/>
<polygon points="464.80,356.00 461.90,365.60 467.70,365.60" fill="#ff0000"/><rect x="463.90" y="365.10" width="1.8" height="15.30" fill="#ff0000"/>
<polygon points="465.60,400.00 462.70,409.60 468.50,409.60" fill="#ff0000"/><rect x="464.70" y="409.10" width="1.8" height="15.30" fill="#ff0000"/>
<rect x="63.65" y="68" width="1.3" height="17.700000000000003" fill="#000"/><polygon points="64.30,89.7 62.20,83.4 66.40,83.4" fill="#000"/>
<rect x="515.95" y="94" width="1.3" height="18" fill="#000"/><polygon points="516.60,116 514.50,109.7 518.70,109.7" fill="#000"/>
<g font-family="'Liberation Sans', Arial, sans-serif" fill="#000"><text transform="translate(5.4,23.6) scale(0.83,1)" font-size="21" stroke="#000" stroke-width="0.35">a</text><text transform="translate(17.9,22.6) scale(0.8,1)" font-size="21.5">)</text><text x="286.3" y="23.6" font-size="21.5" text-anchor="start" stroke="#000" stroke-width="0.3">b</text><text transform="translate(299.7,22.6) scale(0.8,1)" font-size="21.5">)</text><text x="86.8" y="21.2" font-size="12.2" text-anchor="start" textLength="120.3" lengthAdjust="spacingAndGlyphs">ZnO/Graphene/SiO</text><text x="208" y="26.9" font-size="6.5" text-anchor="start" >2</text><text x="390" y="24.1" font-size="12.6" text-anchor="start" textLength="81.2" lengthAdjust="spacingAndGlyphs">ZnO/GO/SiO</text><text x="470.3" y="28.6" font-size="6.2" text-anchor="start" >2</text><text x="87.4" y="476.8" font-size="14" text-anchor="middle" textLength="24.6" lengthAdjust="spacingAndGlyphs">985</text><text x="146.35" y="476.8" font-size="14" text-anchor="middle" textLength="24.6" lengthAdjust="spacingAndGlyphs">990</text><text x="206" y="476.8" font-size="14" text-anchor="middle" textLength="24.6" lengthAdjust="spacingAndGlyphs">995</text><text x="329" y="472.8" font-size="14" text-anchor="middle" textLength="24.6" lengthAdjust="spacingAndGlyphs">980</text><text x="391" y="472.8" font-size="14" text-anchor="middle" textLength="24.6" lengthAdjust="spacingAndGlyphs">985</text><text x="452.3" y="472.8" font-size="14" text-anchor="middle" textLength="24.6" lengthAdjust="spacingAndGlyphs">990</text><text x="515.5" y="472.8" font-size="14" text-anchor="middle" textLength="24.6" lengthAdjust="spacingAndGlyphs">995</text><text x="86.8" y="493.7" font-size="14" text-anchor="start" textLength="123.6" lengthAdjust="spacingAndGlyphs">Kinetic Energy (ev)</text><text x="375.9" y="489.8" font-size="14" text-anchor="start" textLength="122.7" lengthAdjust="spacingAndGlyphs">Kinetic Energy (ev)</text><text transform="translate(17.9,236.5) rotate(-90)" font-size="15.5" text-anchor="middle">Intensity (a.u)</text><text transform="translate(314.1,239.45) rotate(-90)" font-size="15.3" text-anchor="middle">Intensity (a.u)</text><text x="64.6" y="61" font-size="14" text-anchor="middle" textLength="39.5" lengthAdjust="spacing">Eq ML</text><text x="63.3" y="108.7" font-size="14" text-anchor="middle" >4<tspan font-family="IPAGothic, 'Liberation Sans', sans-serif" stroke="#000" stroke-width="0.25">1</tspan></text><text x="64.6" y="145.2" font-size="14" text-anchor="middle" >3</text><text x="63.5" y="178" font-size="14" text-anchor="middle" >0.7</text><text x="64" y="218" font-size="14" text-anchor="middle" >0.4</text><text x="64" y="258" font-size="14" text-anchor="middle" >0.2</text><text x="64" y="300" font-size="14" text-anchor="middle" >0.03</text><text x="64" y="342" font-size="14" text-anchor="middle" >0.02</text><text x="63.5" y="393" font-size="14" text-anchor="middle" >0.0<tspan font-family="IPAGothic, 'Liberation Sans', sans-serif" stroke="#000" stroke-width="0.25">1</tspan></text><text x="217.5" y="58.4" font-size="16" text-anchor="middle" >XPS</text><text x="216.8" y="75.6" font-size="14.2" text-anchor="middle" >Zn LMM</text><text x="516.5" y="87.4" font-size="14" text-anchor="middle" textLength="39.5" lengthAdjust="spacing">Eq ML</text><text x="516.3" y="136" font-size="14" text-anchor="middle" >4<tspan font-family="IPAGothic, 'Liberation Sans', sans-serif" stroke="#000" stroke-width="0.25">1</tspan></text><text x="517" y="169" font-size="14" text-anchor="middle" >7</text><text x="516.5" y="216" font-size="14" text-anchor="middle" ><tspan font-family="IPAGothic, 'Liberation Sans', sans-serif" stroke="#000" stroke-width="0.25">1</tspan></text><text x="516.3" y="250.6" font-size="14" text-anchor="middle" >0.04</text><text x="516.3" y="302" font-size="14" text-anchor="middle" >0.02</text><text x="516.5" y="340" font-size="14" text-anchor="middle" >0.0<tspan font-family="IPAGothic, 'Liberation Sans', sans-serif" stroke="#000" stroke-width="0.25">1</tspan>5</text><text x="516" y="380" font-size="14" text-anchor="middle" >0.0<tspan font-family="IPAGothic, 'Liberation Sans', sans-serif" stroke="#000" stroke-width="0.25">1</tspan></text><text x="516.5" y="417" font-size="14" text-anchor="middle" >0.005</text><text x="359.4" y="60.8" font-size="16" text-anchor="middle" >XPS</text><text x="360.3" y="77.7" font-size="14.2" text-anchor="middle" >Zn LMM</text></g></svg>
</body></html>
